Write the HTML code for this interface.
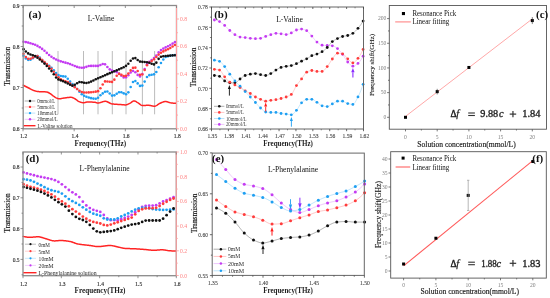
<!DOCTYPE html>
<html><head><meta charset="utf-8"><style>
html,body{margin:0;padding:0;background:#fff;width:550px;height:298px;overflow:hidden}
svg{display:block;filter:blur(0.3px)}
</style></head><body>
<svg width="550" height="298" viewBox="0 0 550 298">
<rect width="550" height="298" fill="#fff"/>
<line x1="58.00" y1="51.00" x2="58.00" y2="114.30" stroke="#b4b4b4" stroke-width="0.9"/>
<line x1="83.50" y1="51.00" x2="83.50" y2="114.30" stroke="#b4b4b4" stroke-width="0.9"/>
<line x1="98.00" y1="51.00" x2="98.00" y2="114.30" stroke="#b4b4b4" stroke-width="0.9"/>
<line x1="112.30" y1="51.00" x2="112.30" y2="114.30" stroke="#b4b4b4" stroke-width="0.9"/>
<line x1="126.00" y1="51.00" x2="126.00" y2="114.30" stroke="#b4b4b4" stroke-width="0.9"/>
<line x1="142.40" y1="51.00" x2="142.40" y2="114.30" stroke="#b4b4b4" stroke-width="0.9"/>
<line x1="154.60" y1="51.00" x2="154.60" y2="114.30" stroke="#b4b4b4" stroke-width="0.9"/>
<polyline points="23.20,85.20 23.70,85.46 24.20,85.71 24.70,85.97 25.20,86.22 25.70,86.48 26.20,86.73 26.70,86.99 27.20,87.24 27.70,87.49 28.20,87.75 28.70,88.00 29.20,88.26 29.70,88.53 30.20,88.80 30.70,89.07 31.20,89.33 31.70,89.58 32.20,89.82 32.70,90.04 33.20,90.24 33.70,90.42 34.20,90.61 34.70,90.79 35.20,90.96 35.70,91.12 36.20,91.25 36.70,91.37 37.20,91.46 37.70,91.52 38.20,91.57 38.70,91.62 39.20,91.66 39.70,91.70 40.20,91.73 40.70,91.75 41.20,91.78 41.70,91.80 42.20,91.81 42.70,91.82 43.20,91.83 43.70,91.84 44.20,91.85 44.70,91.86 45.20,91.87 45.70,91.88 46.20,91.90 46.70,91.96 47.20,92.09 47.70,92.28 48.20,92.51 48.70,92.77 49.20,93.03 49.70,93.30 50.20,93.59 50.70,93.94 51.20,94.33 51.70,94.73 52.20,95.14 52.70,95.54 53.20,95.90 53.70,96.25 54.20,96.61 54.70,96.96 55.20,97.30 55.70,97.61 56.20,97.88 56.70,98.10 57.20,98.29 57.70,98.47 58.20,98.63 58.70,98.74 59.20,98.80 59.70,98.79 60.20,98.74 60.70,98.67 61.20,98.58 61.70,98.48 62.20,98.37 62.70,98.27 63.20,98.18 63.70,98.10 64.20,98.03 64.70,97.96 65.20,97.89 65.70,97.81 66.20,97.74 66.70,97.67 67.20,97.60 67.70,97.53 68.20,97.48 68.70,97.42 69.20,97.38 69.70,97.34 70.20,97.32 70.70,97.30 71.20,97.31 71.70,97.37 72.20,97.51 72.70,97.69 73.20,97.91 73.70,98.17 74.20,98.44 74.70,98.72 75.20,98.99 75.70,99.27 76.20,99.62 76.70,100.01 77.20,100.42 77.70,100.82 78.20,101.18 78.70,101.47 79.20,101.67 79.70,101.86 80.20,102.04 80.70,102.20 81.20,102.36 81.70,102.48 82.20,102.59 82.70,102.66 83.20,102.70 83.70,102.69 84.20,102.64 84.70,102.55 85.20,102.43 85.70,102.31 86.20,102.20 86.70,102.10 87.20,102.03 87.70,102.00 88.20,102.00 88.70,102.01 89.20,102.01 89.70,102.02 90.20,102.04 90.70,102.05 91.20,102.07 91.70,102.09 92.20,102.12 92.70,102.15 93.20,102.17 93.70,102.21 94.20,102.24 94.70,102.28 95.20,102.32 95.70,102.43 96.20,102.59 96.70,102.76 97.20,102.91 97.70,102.99 98.20,102.99 98.70,102.94 99.20,102.86 99.70,102.74 100.20,102.60 100.70,102.44 101.20,102.27 101.70,102.10 102.20,101.93 102.70,101.76 103.20,101.61 103.70,101.49 104.20,101.39 104.70,101.32 105.20,101.30 105.70,101.33 106.20,101.42 106.70,101.57 107.20,101.75 107.70,101.97 108.20,102.21 108.70,102.46 109.20,102.73 109.70,102.99 110.20,103.24 110.70,103.47 111.20,103.67 111.70,103.84 112.20,103.95 112.70,104.02 113.20,104.08 113.70,104.12 114.20,104.17 114.70,104.20 115.20,104.24 115.70,104.27 116.20,104.30 116.70,104.33 117.20,104.35 117.70,104.38 118.20,104.41 118.70,104.44 119.20,104.47 119.70,104.50 120.20,104.54 120.70,104.58 121.20,104.62 121.70,104.67 122.20,104.71 122.70,104.76 123.20,104.80 123.70,104.83 124.20,104.86 124.70,104.89 125.20,104.90 125.70,104.89 126.20,104.83 126.70,104.71 127.20,104.55 127.70,104.35 128.20,104.12 128.70,103.88 129.20,103.63 129.70,103.39 130.20,103.15 130.70,102.83 131.20,102.46 131.70,102.06 132.20,101.68 132.70,101.34 133.20,101.08 133.70,100.93 134.20,100.91 134.70,101.00 135.20,101.18 135.70,101.42 136.20,101.71 136.70,102.03 137.20,102.36 137.70,102.67 138.20,102.96 138.70,103.28 139.20,103.65 139.70,104.05 140.20,104.45 140.70,104.82 141.20,105.14 141.70,105.37 142.20,105.49 142.70,105.50 143.20,105.49 143.70,105.48 144.20,105.46 144.70,105.43 145.20,105.41 145.70,105.38 146.20,105.36 146.70,105.34 147.20,105.32 147.70,105.31 148.20,105.30 148.70,105.31 149.20,105.35 149.70,105.42 150.20,105.50 150.70,105.60 151.20,105.71 151.70,105.82 152.20,105.92 152.70,106.02 153.20,106.10 153.70,106.16 154.20,106.19 154.70,106.19 155.20,106.10 155.70,105.93 156.20,105.69 156.70,105.39 157.20,105.06 157.70,104.71 158.20,104.36 158.70,104.02 159.20,103.70 159.70,103.43 160.20,103.22 160.70,103.00 161.20,102.78 161.70,102.56 162.20,102.35 162.70,102.14 163.20,101.96 163.70,101.79 164.20,101.66 164.70,101.56 165.20,101.51 165.70,101.50 166.20,101.55 166.70,101.65 167.20,101.78 167.70,101.93 168.20,102.10 168.70,102.28 169.20,102.45 169.70,102.61 170.20,102.75 170.70,102.86 171.20,102.92 171.70,102.98 172.20,103.04 172.70,103.09 173.20,103.14 173.70,103.18 174.20,103.22 174.70,103.26 175.20,103.28 175.70,103.29 176.20,103.30" fill="none" stroke="#ff2424" stroke-width="1.5" stroke-linejoin="round" stroke-linecap="round"/>
<g fill="#c43cf2"><circle cx="23.50" cy="41.82" r="1.3"/><circle cx="25.83" cy="42.09" r="1.3"/><circle cx="28.16" cy="42.58" r="1.3"/><circle cx="30.49" cy="43.23" r="1.3"/><circle cx="32.82" cy="43.99" r="1.3"/><circle cx="35.15" cy="44.82" r="1.3"/><circle cx="37.48" cy="45.89" r="1.3"/><circle cx="39.81" cy="47.31" r="1.3"/><circle cx="42.14" cy="48.91" r="1.3"/><circle cx="44.47" cy="50.72" r="1.3"/><circle cx="46.80" cy="52.91" r="1.3"/><circle cx="49.13" cy="55.06" r="1.3"/><circle cx="51.46" cy="56.78" r="1.3"/><circle cx="53.79" cy="58.26" r="1.3"/><circle cx="56.12" cy="59.54" r="1.3"/><circle cx="58.45" cy="60.56" r="1.3"/><circle cx="60.78" cy="61.36" r="1.3"/><circle cx="63.11" cy="62.03" r="1.3"/><circle cx="65.44" cy="62.66" r="1.3"/><circle cx="67.77" cy="63.32" r="1.3"/><circle cx="70.10" cy="64.09" r="1.3"/><circle cx="72.43" cy="65.05" r="1.3"/><circle cx="74.76" cy="66.06" r="1.3"/><circle cx="77.09" cy="66.91" r="1.3"/><circle cx="79.42" cy="67.43" r="1.3"/><circle cx="81.75" cy="67.76" r="1.3"/><circle cx="84.08" cy="67.61" r="1.3"/><circle cx="86.41" cy="66.83" r="1.3"/><circle cx="88.74" cy="66.06" r="1.3"/><circle cx="91.07" cy="65.90" r="1.3"/><circle cx="93.40" cy="65.90" r="1.3"/><circle cx="95.73" cy="65.90" r="1.3"/><circle cx="98.06" cy="65.88" r="1.3"/><circle cx="100.39" cy="65.01" r="1.3"/><circle cx="102.72" cy="63.95" r="1.3"/><circle cx="105.05" cy="64.37" r="1.3"/><circle cx="107.38" cy="66.96" r="1.3"/><circle cx="109.71" cy="69.35" r="1.3"/><circle cx="112.04" cy="70.43" r="1.3"/><circle cx="114.37" cy="71.23" r="1.3"/><circle cx="116.70" cy="72.11" r="1.3"/><circle cx="119.03" cy="73.62" r="1.3"/><circle cx="121.36" cy="75.77" r="1.3"/><circle cx="123.69" cy="77.42" r="1.3"/><circle cx="126.02" cy="77.37" r="1.3"/><circle cx="128.35" cy="75.24" r="1.3"/><circle cx="130.68" cy="72.55" r="1.3"/><circle cx="133.01" cy="71.02" r="1.3"/><circle cx="135.34" cy="72.20" r="1.3"/><circle cx="137.67" cy="74.90" r="1.3"/><circle cx="140.00" cy="76.40" r="1.3"/><circle cx="142.33" cy="74.03" r="1.3"/><circle cx="144.66" cy="68.96" r="1.3"/><circle cx="146.99" cy="64.21" r="1.3"/><circle cx="149.32" cy="61.75" r="1.3"/><circle cx="151.65" cy="59.99" r="1.3"/><circle cx="153.98" cy="58.11" r="1.3"/><circle cx="156.31" cy="55.43" r="1.3"/><circle cx="158.64" cy="52.41" r="1.3"/><circle cx="160.97" cy="50.10" r="1.3"/><circle cx="163.30" cy="48.61" r="1.3"/><circle cx="165.63" cy="47.42" r="1.3"/><circle cx="167.96" cy="46.28" r="1.3"/><circle cx="170.29" cy="44.98" r="1.3"/><circle cx="172.62" cy="43.59" r="1.3"/><circle cx="174.95" cy="42.16" r="1.3"/></g>
<g fill="#1e9ff2"><circle cx="23.50" cy="55.69" r="1.3"/><circle cx="25.83" cy="58.39" r="1.3"/><circle cx="28.16" cy="59.87" r="1.3"/><circle cx="30.49" cy="59.64" r="1.3"/><circle cx="32.82" cy="58.18" r="1.3"/><circle cx="35.15" cy="56.63" r="1.3"/><circle cx="37.48" cy="56.15" r="1.3"/><circle cx="39.81" cy="57.55" r="1.3"/><circle cx="42.14" cy="60.05" r="1.3"/><circle cx="44.47" cy="62.55" r="1.3"/><circle cx="46.80" cy="64.32" r="1.3"/><circle cx="49.13" cy="65.91" r="1.3"/><circle cx="51.46" cy="67.69" r="1.3"/><circle cx="53.79" cy="70.23" r="1.3"/><circle cx="56.12" cy="73.08" r="1.3"/><circle cx="58.45" cy="74.94" r="1.3"/><circle cx="60.78" cy="76.02" r="1.3"/><circle cx="63.11" cy="76.35" r="1.3"/><circle cx="65.44" cy="76.62" r="1.3"/><circle cx="67.77" cy="78.69" r="1.3"/><circle cx="70.10" cy="81.67" r="1.3"/><circle cx="72.43" cy="84.10" r="1.3"/><circle cx="74.76" cy="86.45" r="1.3"/><circle cx="77.09" cy="89.00" r="1.3"/><circle cx="79.42" cy="91.76" r="1.3"/><circle cx="81.75" cy="94.21" r="1.3"/><circle cx="84.08" cy="95.79" r="1.3"/><circle cx="86.41" cy="96.71" r="1.3"/><circle cx="88.74" cy="97.51" r="1.3"/><circle cx="91.07" cy="98.15" r="1.3"/><circle cx="93.40" cy="98.60" r="1.3"/><circle cx="95.73" cy="98.79" r="1.3"/><circle cx="98.06" cy="97.71" r="1.3"/><circle cx="100.39" cy="95.24" r="1.3"/><circle cx="102.72" cy="93.39" r="1.3"/><circle cx="105.05" cy="91.75" r="1.3"/><circle cx="107.38" cy="91.46" r="1.3"/><circle cx="109.71" cy="93.51" r="1.3"/><circle cx="112.04" cy="95.61" r="1.3"/><circle cx="114.37" cy="95.37" r="1.3"/><circle cx="116.70" cy="93.79" r="1.3"/><circle cx="119.03" cy="92.29" r="1.3"/><circle cx="121.36" cy="92.18" r="1.3"/><circle cx="123.69" cy="93.34" r="1.3"/><circle cx="126.02" cy="94.27" r="1.3"/><circle cx="128.35" cy="92.33" r="1.3"/><circle cx="130.68" cy="86.98" r="1.3"/><circle cx="133.01" cy="82.00" r="1.3"/><circle cx="135.34" cy="81.04" r="1.3"/><circle cx="137.67" cy="83.39" r="1.3"/><circle cx="140.00" cy="85.89" r="1.3"/><circle cx="142.33" cy="85.58" r="1.3"/><circle cx="144.66" cy="81.60" r="1.3"/><circle cx="146.99" cy="77.04" r="1.3"/><circle cx="149.32" cy="75.13" r="1.3"/><circle cx="151.65" cy="74.78" r="1.3"/><circle cx="153.98" cy="74.37" r="1.3"/><circle cx="156.31" cy="71.94" r="1.3"/><circle cx="158.64" cy="67.19" r="1.3"/><circle cx="160.97" cy="63.02" r="1.3"/><circle cx="163.30" cy="59.57" r="1.3"/><circle cx="165.63" cy="57.07" r="1.3"/><circle cx="167.96" cy="56.27" r="1.3"/><circle cx="170.29" cy="55.71" r="1.3"/><circle cx="172.62" cy="55.32" r="1.3"/><circle cx="174.95" cy="55.12" r="1.3"/></g>
<g fill="#ff3c3c"><circle cx="23.50" cy="53.79" r="1.3"/><circle cx="25.83" cy="57.00" r="1.3"/><circle cx="28.16" cy="58.84" r="1.3"/><circle cx="30.49" cy="58.73" r="1.3"/><circle cx="32.82" cy="57.60" r="1.3"/><circle cx="35.15" cy="56.41" r="1.3"/><circle cx="37.48" cy="56.12" r="1.3"/><circle cx="39.81" cy="58.34" r="1.3"/><circle cx="42.14" cy="60.17" r="1.3"/><circle cx="44.47" cy="61.99" r="1.3"/><circle cx="46.80" cy="64.02" r="1.3"/><circle cx="49.13" cy="66.33" r="1.3"/><circle cx="51.46" cy="68.83" r="1.3"/><circle cx="53.79" cy="71.73" r="1.3"/><circle cx="56.12" cy="74.83" r="1.3"/><circle cx="58.45" cy="77.31" r="1.3"/><circle cx="60.78" cy="79.27" r="1.3"/><circle cx="63.11" cy="80.55" r="1.3"/><circle cx="65.44" cy="81.26" r="1.3"/><circle cx="67.77" cy="82.01" r="1.3"/><circle cx="70.10" cy="83.46" r="1.3"/><circle cx="72.43" cy="85.48" r="1.3"/><circle cx="74.76" cy="87.23" r="1.3"/><circle cx="77.09" cy="88.99" r="1.3"/><circle cx="79.42" cy="90.70" r="1.3"/><circle cx="81.75" cy="91.98" r="1.3"/><circle cx="84.08" cy="92.50" r="1.3"/><circle cx="86.41" cy="92.47" r="1.3"/><circle cx="88.74" cy="92.38" r="1.3"/><circle cx="91.07" cy="92.22" r="1.3"/><circle cx="93.40" cy="91.98" r="1.3"/><circle cx="95.73" cy="91.65" r="1.3"/><circle cx="98.06" cy="91.16" r="1.3"/><circle cx="100.39" cy="88.20" r="1.3"/><circle cx="102.72" cy="84.49" r="1.3"/><circle cx="105.05" cy="81.42" r="1.3"/><circle cx="107.38" cy="81.52" r="1.3"/><circle cx="109.71" cy="81.77" r="1.3"/><circle cx="112.04" cy="81.90" r="1.3"/><circle cx="114.37" cy="79.66" r="1.3"/><circle cx="116.70" cy="75.72" r="1.3"/><circle cx="119.03" cy="73.91" r="1.3"/><circle cx="121.36" cy="74.78" r="1.3"/><circle cx="123.69" cy="75.96" r="1.3"/><circle cx="126.02" cy="75.86" r="1.3"/><circle cx="128.35" cy="73.58" r="1.3"/><circle cx="130.68" cy="70.41" r="1.3"/><circle cx="133.01" cy="67.88" r="1.3"/><circle cx="135.34" cy="67.66" r="1.3"/><circle cx="137.67" cy="71.06" r="1.3"/><circle cx="140.00" cy="74.71" r="1.3"/><circle cx="142.33" cy="74.48" r="1.3"/><circle cx="144.66" cy="70.04" r="1.3"/><circle cx="146.99" cy="65.22" r="1.3"/><circle cx="149.32" cy="62.75" r="1.3"/><circle cx="151.65" cy="60.97" r="1.3"/><circle cx="153.98" cy="59.19" r="1.3"/><circle cx="156.31" cy="56.96" r="1.3"/><circle cx="158.64" cy="54.60" r="1.3"/><circle cx="160.97" cy="52.72" r="1.3"/><circle cx="163.30" cy="51.42" r="1.3"/><circle cx="165.63" cy="50.34" r="1.3"/><circle cx="167.96" cy="49.26" r="1.3"/><circle cx="170.29" cy="47.98" r="1.3"/><circle cx="172.62" cy="46.52" r="1.3"/><circle cx="174.95" cy="44.94" r="1.3"/></g>
<g fill="#111"><circle cx="23.50" cy="49.16" r="1.3"/><circle cx="25.83" cy="51.57" r="1.3"/><circle cx="28.16" cy="53.41" r="1.3"/><circle cx="30.49" cy="54.53" r="1.3"/><circle cx="32.82" cy="55.24" r="1.3"/><circle cx="35.15" cy="56.12" r="1.3"/><circle cx="37.48" cy="57.65" r="1.3"/><circle cx="39.81" cy="59.55" r="1.3"/><circle cx="42.14" cy="61.50" r="1.3"/><circle cx="44.47" cy="63.62" r="1.3"/><circle cx="46.80" cy="65.91" r="1.3"/><circle cx="49.13" cy="68.44" r="1.3"/><circle cx="51.46" cy="71.12" r="1.3"/><circle cx="53.79" cy="74.23" r="1.3"/><circle cx="56.12" cy="77.43" r="1.3"/><circle cx="58.45" cy="79.38" r="1.3"/><circle cx="60.78" cy="80.37" r="1.3"/><circle cx="63.11" cy="81.23" r="1.3"/><circle cx="65.44" cy="82.36" r="1.3"/><circle cx="67.77" cy="83.57" r="1.3"/><circle cx="70.10" cy="84.70" r="1.3"/><circle cx="72.43" cy="85.67" r="1.3"/><circle cx="74.76" cy="84.82" r="1.3"/><circle cx="77.09" cy="83.30" r="1.3"/><circle cx="79.42" cy="82.06" r="1.3"/><circle cx="81.75" cy="82.25" r="1.3"/><circle cx="84.08" cy="82.82" r="1.3"/><circle cx="86.41" cy="82.96" r="1.3"/><circle cx="88.74" cy="82.48" r="1.3"/><circle cx="91.07" cy="81.58" r="1.3"/><circle cx="93.40" cy="80.46" r="1.3"/><circle cx="95.73" cy="79.29" r="1.3"/><circle cx="98.06" cy="78.25" r="1.3"/><circle cx="100.39" cy="77.26" r="1.3"/><circle cx="102.72" cy="76.23" r="1.3"/><circle cx="105.05" cy="75.18" r="1.3"/><circle cx="107.38" cy="74.14" r="1.3"/><circle cx="109.71" cy="73.14" r="1.3"/><circle cx="112.04" cy="72.20" r="1.3"/><circle cx="114.37" cy="71.30" r="1.3"/><circle cx="116.70" cy="70.36" r="1.3"/><circle cx="119.03" cy="69.35" r="1.3"/><circle cx="121.36" cy="68.32" r="1.3"/><circle cx="123.69" cy="67.18" r="1.3"/><circle cx="126.02" cy="65.84" r="1.3"/><circle cx="128.35" cy="63.74" r="1.3"/><circle cx="130.68" cy="60.80" r="1.3"/><circle cx="133.01" cy="58.44" r="1.3"/><circle cx="135.34" cy="58.11" r="1.3"/><circle cx="137.67" cy="60.04" r="1.3"/><circle cx="140.00" cy="61.60" r="1.3"/><circle cx="142.33" cy="61.87" r="1.3"/><circle cx="144.66" cy="62.02" r="1.3"/><circle cx="146.99" cy="62.22" r="1.3"/><circle cx="149.32" cy="62.79" r="1.3"/><circle cx="151.65" cy="63.79" r="1.3"/><circle cx="153.98" cy="64.39" r="1.3"/><circle cx="156.31" cy="62.63" r="1.3"/><circle cx="158.64" cy="58.83" r="1.3"/><circle cx="160.97" cy="56.74" r="1.3"/><circle cx="163.30" cy="56.32" r="1.3"/><circle cx="165.63" cy="56.05" r="1.3"/><circle cx="167.96" cy="55.84" r="1.3"/><circle cx="170.29" cy="55.61" r="1.3"/><circle cx="172.62" cy="55.38" r="1.3"/><circle cx="174.95" cy="55.18" r="1.3"/></g>
<rect x="23.2" y="5.5" width="153.3" height="123.30000000000001" fill="none" stroke="#8a8a8a" stroke-width="1.3"/>
<line x1="176.50" y1="5.50" x2="176.50" y2="128.80" stroke="#ffa0a0" stroke-width="1.0"/>
<line x1="23.00" y1="128.80" x2="23.00" y2="131.30" stroke="#777" stroke-width="0.8"/>
<line x1="23.00" y1="5.50" x2="23.00" y2="8.00" stroke="#777" stroke-width="0.8"/>
<line x1="48.58" y1="128.80" x2="48.58" y2="130.30" stroke="#777" stroke-width="0.8"/>
<line x1="48.58" y1="5.50" x2="48.58" y2="7.00" stroke="#777" stroke-width="0.8"/>
<line x1="74.17" y1="128.80" x2="74.17" y2="131.30" stroke="#777" stroke-width="0.8"/>
<line x1="74.17" y1="5.50" x2="74.17" y2="8.00" stroke="#777" stroke-width="0.8"/>
<line x1="99.75" y1="128.80" x2="99.75" y2="130.30" stroke="#777" stroke-width="0.8"/>
<line x1="99.75" y1="5.50" x2="99.75" y2="7.00" stroke="#777" stroke-width="0.8"/>
<line x1="125.33" y1="128.80" x2="125.33" y2="131.30" stroke="#777" stroke-width="0.8"/>
<line x1="125.33" y1="5.50" x2="125.33" y2="8.00" stroke="#777" stroke-width="0.8"/>
<line x1="150.92" y1="128.80" x2="150.92" y2="130.30" stroke="#777" stroke-width="0.8"/>
<line x1="150.92" y1="5.50" x2="150.92" y2="7.00" stroke="#777" stroke-width="0.8"/>
<line x1="176.50" y1="128.80" x2="176.50" y2="131.30" stroke="#777" stroke-width="0.8"/>
<line x1="176.50" y1="5.50" x2="176.50" y2="8.00" stroke="#777" stroke-width="0.8"/>
<line x1="20.70" y1="128.50" x2="23.20" y2="128.50" stroke="#777" stroke-width="0.8"/>
<line x1="21.70" y1="108.00" x2="23.20" y2="108.00" stroke="#777" stroke-width="0.8"/>
<line x1="20.70" y1="87.50" x2="23.20" y2="87.50" stroke="#777" stroke-width="0.8"/>
<line x1="21.70" y1="67.00" x2="23.20" y2="67.00" stroke="#777" stroke-width="0.8"/>
<line x1="20.70" y1="46.50" x2="23.20" y2="46.50" stroke="#777" stroke-width="0.8"/>
<line x1="21.70" y1="26.00" x2="23.20" y2="26.00" stroke="#777" stroke-width="0.8"/>
<line x1="20.70" y1="5.50" x2="23.20" y2="5.50" stroke="#777" stroke-width="0.8"/>
<line x1="176.50" y1="128.80" x2="179.00" y2="128.80" stroke="#ffa0a0" stroke-width="0.8"/>
<line x1="176.50" y1="115.08" x2="178.00" y2="115.08" stroke="#ffa0a0" stroke-width="0.8"/>
<line x1="176.50" y1="101.35" x2="179.00" y2="101.35" stroke="#ffa0a0" stroke-width="0.8"/>
<line x1="176.50" y1="87.62" x2="178.00" y2="87.62" stroke="#ffa0a0" stroke-width="0.8"/>
<line x1="176.50" y1="73.90" x2="179.00" y2="73.90" stroke="#ffa0a0" stroke-width="0.8"/>
<line x1="176.50" y1="60.18" x2="178.00" y2="60.18" stroke="#ffa0a0" stroke-width="0.8"/>
<line x1="176.50" y1="46.45" x2="179.00" y2="46.45" stroke="#ffa0a0" stroke-width="0.8"/>
<line x1="176.50" y1="32.73" x2="178.00" y2="32.73" stroke="#ffa0a0" stroke-width="0.8"/>
<line x1="176.50" y1="19.00" x2="179.00" y2="19.00" stroke="#ffa0a0" stroke-width="0.8"/>
<text x="23.80" y="135.40" font-family="'Liberation Serif', serif" font-size="6.4" fill="#2a2a2a" text-anchor="middle" font-weight="normal" font-style="normal" dominant-baseline="central" textLength="6.9" lengthAdjust="spacingAndGlyphs" stroke="#2a2a2a" stroke-width="0.15">1.2</text>
<text x="74.97" y="135.40" font-family="'Liberation Serif', serif" font-size="6.4" fill="#2a2a2a" text-anchor="middle" font-weight="normal" font-style="normal" dominant-baseline="central" textLength="6.9" lengthAdjust="spacingAndGlyphs" stroke="#2a2a2a" stroke-width="0.15">1.4</text>
<text x="126.13" y="135.40" font-family="'Liberation Serif', serif" font-size="6.4" fill="#2a2a2a" text-anchor="middle" font-weight="normal" font-style="normal" dominant-baseline="central" textLength="6.9" lengthAdjust="spacingAndGlyphs" stroke="#2a2a2a" stroke-width="0.15">1.6</text>
<text x="177.30" y="135.40" font-family="'Liberation Serif', serif" font-size="6.4" fill="#2a2a2a" text-anchor="middle" font-weight="normal" font-style="normal" dominant-baseline="central" textLength="6.9" lengthAdjust="spacingAndGlyphs" stroke="#2a2a2a" stroke-width="0.15">1.8</text>
<text x="19.60" y="128.10" font-family="'Liberation Serif', serif" font-size="6.4" fill="#2a2a2a" text-anchor="end" font-weight="normal" font-style="normal" dominant-baseline="central" textLength="6.9" lengthAdjust="spacingAndGlyphs" stroke="#2a2a2a" stroke-width="0.15">0.6</text>
<text x="19.60" y="87.10" font-family="'Liberation Serif', serif" font-size="6.4" fill="#2a2a2a" text-anchor="end" font-weight="normal" font-style="normal" dominant-baseline="central" textLength="6.9" lengthAdjust="spacingAndGlyphs" stroke="#2a2a2a" stroke-width="0.15">0.7</text>
<text x="19.60" y="46.10" font-family="'Liberation Serif', serif" font-size="6.4" fill="#2a2a2a" text-anchor="end" font-weight="normal" font-style="normal" dominant-baseline="central" textLength="6.9" lengthAdjust="spacingAndGlyphs" stroke="#2a2a2a" stroke-width="0.15">0.8</text>
<text x="19.60" y="5.10" font-family="'Liberation Serif', serif" font-size="6.4" fill="#2a2a2a" text-anchor="end" font-weight="normal" font-style="normal" dominant-baseline="central" textLength="6.9" lengthAdjust="spacingAndGlyphs" stroke="#2a2a2a" stroke-width="0.15">0.9</text>
<text x="180.00" y="128.80" font-family="'Liberation Serif', serif" font-size="5.6" fill="#ff8080" text-anchor="start" font-weight="normal" font-style="normal" dominant-baseline="central">0.0</text>
<text x="180.00" y="101.35" font-family="'Liberation Serif', serif" font-size="5.6" fill="#ff8080" text-anchor="start" font-weight="normal" font-style="normal" dominant-baseline="central">0.2</text>
<text x="180.00" y="73.90" font-family="'Liberation Serif', serif" font-size="5.6" fill="#ff8080" text-anchor="start" font-weight="normal" font-style="normal" dominant-baseline="central">0.4</text>
<text x="180.00" y="46.45" font-family="'Liberation Serif', serif" font-size="5.6" fill="#ff8080" text-anchor="start" font-weight="normal" font-style="normal" dominant-baseline="central">0.6</text>
<text x="180.00" y="19.00" font-family="'Liberation Serif', serif" font-size="5.6" fill="#ff8080" text-anchor="start" font-weight="normal" font-style="normal" dominant-baseline="central">0.8</text>
<text x="28.60" y="14.40" font-family="'Liberation Serif', serif" font-size="11" fill="#111" text-anchor="start" font-weight="bold" font-style="normal" dominant-baseline="central">(a)</text>
<text x="101.00" y="18.50" font-family="'Liberation Serif', serif" font-size="7.6" fill="#111" text-anchor="middle" font-weight="normal" font-style="normal" dominant-baseline="central">L-Valine</text>
<text x="100.30" y="143.70" font-family="'Liberation Serif', serif" font-size="7.5" fill="#222" text-anchor="middle" font-weight="bold" font-style="normal" dominant-baseline="central" textLength="51.5" lengthAdjust="spacingAndGlyphs">Frequency(THz)</text>
<text x="8.00" y="66.30" font-family="'Liberation Serif', serif" font-size="7.3" fill="#1a1a1a" text-anchor="middle" font-weight="normal" font-style="normal" dominant-baseline="central" transform="rotate(-90 8.0 66.3)" stroke="#1a1a1a" stroke-width="0.15">Transmission</text>
<line x1="24.70" y1="101.00" x2="35.30" y2="101.00" stroke="#777" stroke-width="0.6"/>
<circle cx="30" cy="101.0" r="1.2" fill="#111"/>
<text x="37.20" y="101.00" font-family="'Liberation Serif', serif" font-size="5.6" fill="#333" text-anchor="start" font-weight="normal" font-style="normal" dominant-baseline="central" textLength="18.0" lengthAdjust="spacingAndGlyphs">0mmol/L</text>
<line x1="24.70" y1="106.90" x2="35.30" y2="106.90" stroke="#ff9a9a" stroke-width="0.6"/>
<circle cx="30" cy="106.9" r="1.2" fill="#ff3c3c"/>
<text x="37.20" y="106.90" font-family="'Liberation Serif', serif" font-size="5.6" fill="#333" text-anchor="start" font-weight="normal" font-style="normal" dominant-baseline="central" textLength="18.0" lengthAdjust="spacingAndGlyphs">5mmol/L</text>
<line x1="24.70" y1="113.10" x2="35.30" y2="113.10" stroke="#8fd0f8" stroke-width="0.6"/>
<circle cx="30" cy="113.1" r="1.2" fill="#1e9ff2"/>
<text x="37.20" y="113.10" font-family="'Liberation Serif', serif" font-size="5.6" fill="#333" text-anchor="start" font-weight="normal" font-style="normal" dominant-baseline="central" textLength="20.6" lengthAdjust="spacingAndGlyphs">10mmol/L</text>
<line x1="24.70" y1="119.30" x2="35.30" y2="119.30" stroke="#e0a0f8" stroke-width="0.6"/>
<circle cx="30" cy="119.3" r="1.2" fill="#c43cf2"/>
<text x="37.20" y="119.30" font-family="'Liberation Serif', serif" font-size="5.6" fill="#333" text-anchor="start" font-weight="normal" font-style="normal" dominant-baseline="central" textLength="20.6" lengthAdjust="spacingAndGlyphs">20mmol/L</text>
<line x1="23.80" y1="125.70" x2="35.50" y2="125.70" stroke="#ff2424" stroke-width="1.4"/>
<text x="37.60" y="125.70" font-family="'Liberation Serif', serif" font-size="5.6" fill="#333" text-anchor="start" font-weight="normal" font-style="normal" dominant-baseline="central" textLength="35.0" lengthAdjust="spacingAndGlyphs">L-Valine solution</text>
<polyline points="214.40,20.00 214.90,20.06 215.40,20.15 215.90,20.27 216.40,20.40 216.90,20.56 217.40,20.73 217.90,20.92 218.40,21.12 218.90,21.33 219.40,21.54 219.90,21.78 220.40,22.05 220.90,22.37 221.40,22.71 221.90,23.09 222.40,23.48 222.90,23.90 223.40,24.32 223.90,24.75 224.40,25.18 224.90,25.61 225.40,26.07 225.90,26.56 226.40,27.06 226.90,27.58 227.40,28.11 227.90,28.64 228.40,29.15 228.90,29.66 229.40,30.15 229.90,30.60 230.40,31.06 230.90,31.51 231.40,31.96 231.90,32.41 232.40,32.84 232.90,33.26 233.40,33.65 233.90,34.03 234.40,34.38 234.90,34.69 235.40,34.99 235.90,35.29 236.40,35.59 236.90,35.87 237.40,36.14 237.90,36.39 238.40,36.61 238.90,36.80 239.40,36.96 239.90,37.08 240.40,37.15 240.90,37.22 241.40,37.28 241.90,37.32 242.40,37.36 242.90,37.40 243.40,37.44 243.90,37.48 244.40,37.52 244.90,37.57 245.40,37.63 245.90,37.69 246.40,37.76 246.90,37.83 247.40,37.91 247.90,37.98 248.40,38.06 248.90,38.13 249.40,38.20 249.90,38.26 250.40,38.31 250.90,38.36 251.40,38.42 251.90,38.47 252.40,38.52 252.90,38.57 253.40,38.61 253.90,38.65 254.40,38.67 254.90,38.69 255.40,38.70 255.90,38.70 256.40,38.68 256.90,38.66 257.40,38.63 257.90,38.59 258.40,38.55 258.90,38.50 259.40,38.44 259.90,38.38 260.40,38.32 260.90,38.24 261.40,38.13 261.90,37.97 262.40,37.79 262.90,37.58 263.40,37.37 263.90,37.14 264.40,36.92 264.90,36.70 265.40,36.50 265.90,36.32 266.40,36.15 266.90,35.98 267.40,35.80 267.90,35.63 268.40,35.47 268.90,35.30 269.40,35.14 269.90,34.98 270.40,34.82 270.90,34.67 271.40,34.51 271.90,34.33 272.40,34.15 272.90,33.97 273.40,33.80 273.90,33.64 274.40,33.51 274.90,33.40 275.40,33.33 275.90,33.30 276.40,33.31 276.90,33.33 277.40,33.36 277.90,33.41 278.40,33.46 278.90,33.52 279.40,33.59 279.90,33.65 280.40,33.72 280.90,33.78 281.40,33.85 281.90,33.93 282.40,34.02 282.90,34.13 283.40,34.23 283.90,34.33 284.40,34.42 284.90,34.50 285.40,34.56 285.90,34.59 286.40,34.60 286.90,34.55 287.40,34.45 287.90,34.32 288.40,34.15 288.90,33.96 289.40,33.75 289.90,33.53 290.40,33.30 290.90,33.08 291.40,32.87 291.90,32.62 292.40,32.34 292.90,32.02 293.40,31.68 293.90,31.34 294.40,31.01 294.90,30.70 295.40,30.42 295.90,30.19 296.40,30.01 296.90,29.88 297.40,29.75 297.90,29.62 298.40,29.51 298.90,29.40 299.40,29.31 299.90,29.23 300.40,29.16 300.90,29.12 301.40,29.10 301.90,29.11 302.40,29.16 302.90,29.24 303.40,29.36 303.90,29.51 304.40,29.68 304.90,29.88 305.40,30.09 305.90,30.32 306.40,30.55 306.90,30.80 307.40,31.13 307.90,31.55 308.40,32.03 308.90,32.57 309.40,33.16 309.90,33.76 310.40,34.39 310.90,35.00 311.40,35.61 311.90,36.18 312.40,36.76 312.90,37.37 313.40,38.01 313.90,38.66 314.40,39.30 314.90,39.93 315.40,40.54 315.90,41.10 316.40,41.61 316.90,42.05 317.40,42.46 317.90,42.86 318.40,43.27 318.90,43.66 319.40,44.03 319.90,44.36 320.40,44.65 320.90,44.90 321.40,45.07 321.90,45.18 322.40,45.22 322.90,45.25 323.40,45.27 323.90,45.29 324.40,45.31 324.90,45.32 325.40,45.33 325.90,45.35 326.40,45.36 326.90,45.38 327.40,45.41 327.90,45.44 328.40,45.46 328.90,45.49 329.40,45.52 329.90,45.55 330.40,45.59 330.90,45.64 331.40,45.69 331.90,45.74 332.40,45.81 332.90,45.91 333.40,46.07 333.90,46.28 334.40,46.53 334.90,46.81 335.40,47.13 335.90,47.46 336.40,47.82 336.90,48.18 337.40,48.55 337.90,48.93 338.40,49.37 338.90,49.86 339.40,50.38 339.90,50.94 340.40,51.53 340.90,52.14 341.40,52.77 341.90,53.40 342.40,54.04 342.90,54.70 343.40,55.42 343.90,56.20 344.40,57.01 344.90,57.85 345.40,58.68 345.90,59.50 346.40,60.27 346.90,60.99 347.40,61.63 347.90,62.18 348.40,62.74 348.90,63.30 349.40,63.85 349.90,64.39 350.40,64.88 350.90,65.32 351.40,65.69 351.90,65.97 352.40,66.15 352.90,66.20 353.40,66.15 353.90,66.03 354.40,65.85 354.90,65.61 355.40,65.32 355.90,64.99 356.40,64.63 356.90,64.25 357.40,63.86 357.90,63.47 358.40,63.05 358.90,62.55 359.40,61.99 359.90,61.37 360.40,60.68 360.90,59.95 361.40,59.16 361.90,58.34 362.40,57.48 362.90,56.59" fill="none" stroke="#e0a0f8" stroke-width="0.5" stroke-linejoin="round" stroke-linecap="round"/>
<polyline points="214.40,75.50 214.90,75.51 215.40,75.54 215.90,75.58 216.40,75.64 216.90,75.72 217.40,75.81 217.90,75.91 218.40,76.02 218.90,76.14 219.40,76.27 219.90,76.44 220.40,76.75 220.90,77.17 221.40,77.66 221.90,78.22 222.40,78.79 222.90,79.36 223.40,79.89 223.90,80.37 224.40,80.75 224.90,81.03 225.40,81.29 225.90,81.56 226.40,81.81 226.90,82.05 227.40,82.26 227.90,82.45 228.40,82.60 228.90,82.72 229.40,82.78 229.90,82.80 230.40,82.80 230.90,82.80 231.40,82.80 231.90,82.80 232.40,82.80 232.90,82.80 233.40,82.80 233.90,82.80 234.40,82.80 234.90,82.80 235.40,82.73 235.90,82.54 236.40,82.24 236.90,81.86 237.40,81.43 237.90,80.95 238.40,80.46 238.90,79.97 239.40,79.51 239.90,79.10 240.40,78.74 240.90,78.36 241.40,77.97 241.90,77.57 242.40,77.19 242.90,76.81 243.40,76.46 243.90,76.13 244.40,75.85 244.90,75.61 245.40,75.42 245.90,75.24 246.40,75.08 246.90,74.94 247.40,74.80 247.90,74.67 248.40,74.56 248.90,74.45 249.40,74.36 249.90,74.27 250.40,74.18 250.90,74.10 251.40,74.02 251.90,73.94 252.40,73.86 252.90,73.79 253.40,73.73 253.90,73.68 254.40,73.64 254.90,73.61 255.40,73.60 255.90,73.62 256.40,73.68 256.90,73.77 257.40,73.88 257.90,74.01 258.40,74.15 258.90,74.29 259.40,74.43 259.90,74.56 260.40,74.67 260.90,74.77 261.40,74.87 261.90,74.97 262.40,75.07 262.90,75.17 263.40,75.27 263.90,75.35 264.40,75.42 264.90,75.47 265.40,75.50 265.90,75.49 266.40,75.44 266.90,75.33 267.40,75.19 267.90,75.00 268.40,74.79 268.90,74.55 269.40,74.31 269.90,74.05 270.40,73.80 270.90,73.56 271.40,73.28 271.90,72.98 272.40,72.64 272.90,72.28 273.40,71.90 273.90,71.52 274.40,71.15 274.90,70.78 275.40,70.44 275.90,70.12 276.40,69.82 276.90,69.52 277.40,69.21 277.90,68.91 278.40,68.62 278.90,68.34 279.40,68.08 279.90,67.84 280.40,67.63 280.90,67.45 281.40,67.30 281.90,67.16 282.40,67.04 282.90,66.92 283.40,66.81 283.90,66.71 284.40,66.61 284.90,66.52 285.40,66.43 285.90,66.35 286.40,66.27 286.90,66.19 287.40,66.13 287.90,66.07 288.40,66.01 288.90,65.95 289.40,65.90 289.90,65.83 290.40,65.76 290.90,65.68 291.40,65.58 291.90,65.47 292.40,65.32 292.90,65.16 293.40,64.98 293.90,64.79 294.40,64.58 294.90,64.37 295.40,64.15 295.90,63.93 296.40,63.72 296.90,63.50 297.40,63.28 297.90,63.04 298.40,62.79 298.90,62.54 299.40,62.29 299.90,62.03 300.40,61.78 300.90,61.53 301.40,61.28 301.90,61.05 302.40,60.82 302.90,60.59 303.40,60.36 303.90,60.14 304.40,59.91 304.90,59.69 305.40,59.45 305.90,59.21 306.40,58.96 306.90,58.69 307.40,58.40 307.90,58.09 308.40,57.76 308.90,57.42 309.40,57.09 309.90,56.76 310.40,56.44 310.90,56.15 311.40,55.89 311.90,55.67 312.40,55.48 312.90,55.31 313.40,55.16 313.90,55.01 314.40,54.88 314.90,54.74 315.40,54.60 315.90,54.46 316.40,54.30 316.90,54.12 317.40,53.93 317.90,53.74 318.40,53.53 318.90,53.32 319.40,53.10 319.90,52.87 320.40,52.62 320.90,52.37 321.40,52.10 321.90,51.81 322.40,51.51 322.90,51.18 323.40,50.82 323.90,50.44 324.40,50.04 324.90,49.62 325.40,49.18 325.90,48.73 326.40,48.27 326.90,47.80 327.40,47.32 327.90,46.78 328.40,46.19 328.90,45.57 329.40,44.93 329.90,44.28 330.40,43.64 330.90,43.04 331.40,42.48 331.90,41.98 332.40,41.56 332.90,41.18 333.40,40.84 333.90,40.51 334.40,40.21 334.90,39.92 335.40,39.64 335.90,39.38 336.40,39.12 336.90,38.88 337.40,38.63 337.90,38.39 338.40,38.15 338.90,37.92 339.40,37.69 339.90,37.47 340.40,37.26 340.90,37.06 341.40,36.87 341.90,36.70 342.40,36.55 342.90,36.42 343.40,36.31 343.90,36.21 344.40,36.13 344.90,36.04 345.40,35.96 345.90,35.88 346.40,35.79 346.90,35.70 347.40,35.58 347.90,35.45 348.40,35.31 348.90,35.14 349.40,34.97 349.90,34.77 350.40,34.56 350.90,34.34 351.40,34.10 351.90,33.84 352.40,33.56 352.90,33.27 353.40,32.94 353.90,32.56 354.40,32.14 354.90,31.67 355.40,31.18 355.90,30.65 356.40,30.11 356.90,29.54 357.40,28.97 357.90,28.40 358.40,27.81 358.90,27.20 359.40,26.56 359.90,25.90 360.40,25.21 360.90,24.50 361.40,23.76 361.90,23.01 362.40,22.23 362.90,21.44" fill="none" stroke="#777" stroke-width="0.5" stroke-linejoin="round" stroke-linecap="round"/>
<polyline points="214.40,69.30 214.90,69.31 215.40,69.34 215.90,69.38 216.40,69.44 216.90,69.51 217.40,69.60 217.90,69.70 218.40,69.81 218.90,69.93 219.40,70.06 219.90,70.26 220.40,70.64 220.90,71.17 221.40,71.83 221.90,72.58 222.40,73.38 222.90,74.21 223.40,75.02 223.90,75.79 224.40,76.49 224.90,77.09 225.40,77.68 225.90,78.27 226.40,78.86 226.90,79.44 227.40,80.00 227.90,80.53 228.40,81.03 228.90,81.50 229.40,81.91 229.90,82.28 230.40,82.61 230.90,82.91 231.40,83.18 231.90,83.44 232.40,83.69 232.90,83.92 233.40,84.16 233.90,84.40 234.40,84.64 234.90,84.89 235.40,85.16 235.90,85.41 236.40,85.67 236.90,85.93 237.40,86.18 237.90,86.44 238.40,86.70 238.90,86.97 239.40,87.24 239.90,87.52 240.40,87.81 240.90,88.11 241.40,88.42 241.90,88.74 242.40,89.07 242.90,89.39 243.40,89.72 243.90,90.03 244.40,90.34 244.90,90.64 245.40,90.93 245.90,91.20 246.40,91.47 246.90,91.72 247.40,91.97 247.90,92.22 248.40,92.47 248.90,92.73 249.40,92.99 249.90,93.27 250.40,93.56 250.90,93.88 251.40,94.22 251.90,94.58 252.40,94.94 252.90,95.31 253.40,95.68 253.90,96.04 254.40,96.38 254.90,96.70 255.40,96.99 255.90,97.25 256.40,97.50 256.90,97.74 257.40,97.98 257.90,98.20 258.40,98.41 258.90,98.62 259.40,98.83 259.90,99.04 260.40,99.24 260.90,99.45 261.40,99.68 261.90,99.92 262.40,100.17 262.90,100.41 263.40,100.64 263.90,100.84 264.40,101.00 264.90,101.12 265.40,101.19 265.90,101.20 266.40,101.16 266.90,101.10 267.40,101.02 267.90,100.92 268.40,100.80 268.90,100.69 269.40,100.57 269.90,100.46 270.40,100.36 270.90,100.29 271.40,100.22 271.90,100.16 272.40,100.11 272.90,100.06 273.40,100.01 273.90,99.96 274.40,99.90 274.90,99.84 275.40,99.78 275.90,99.71 276.40,99.62 276.90,99.53 277.40,99.42 277.90,99.31 278.40,99.19 278.90,99.07 279.40,98.94 279.90,98.81 280.40,98.67 280.90,98.54 281.40,98.41 281.90,98.28 282.40,98.15 282.90,98.02 283.40,97.88 283.90,97.74 284.40,97.60 284.90,97.44 285.40,97.28 285.90,97.11 286.40,96.92 286.90,96.74 287.40,96.54 287.90,96.34 288.40,96.13 288.90,95.90 289.40,95.64 289.90,95.36 290.40,95.06 290.90,94.71 291.40,94.33 291.90,93.82 292.40,93.13 292.90,92.32 293.40,91.40 293.90,90.42 294.40,89.40 294.90,88.39 295.40,87.40 295.90,86.49 296.40,85.67 296.90,84.94 297.40,84.24 297.90,83.57 298.40,82.92 298.90,82.28 299.40,81.65 299.90,81.02 300.40,80.40 300.90,79.77 301.40,79.13 301.90,78.46 302.40,77.74 302.90,76.97 303.40,76.19 303.90,75.42 304.40,74.67 304.90,73.97 305.40,73.34 305.90,72.81 306.40,72.39 306.90,72.10 307.40,71.84 307.90,71.59 308.40,71.36 308.90,71.15 309.40,70.96 309.90,70.80 310.40,70.67 310.90,70.57 311.40,70.52 311.90,70.50 312.40,70.53 312.90,70.60 313.40,70.70 313.90,70.82 314.40,70.95 314.90,71.08 315.40,71.20 315.90,71.30 316.40,71.37 316.90,71.40 317.40,71.40 317.90,71.40 318.40,71.40 318.90,71.40 319.40,71.40 319.90,71.40 320.40,71.40 320.90,71.40 321.40,71.40 321.90,71.40 322.40,71.37 322.90,71.20 323.40,70.90 323.90,70.50 324.40,70.01 324.90,69.45 325.40,68.85 325.90,68.22 326.40,67.59 326.90,66.97 327.40,66.38 327.90,65.74 328.40,65.04 328.90,64.28 329.40,63.50 329.90,62.69 330.40,61.89 330.90,61.09 331.40,60.32 331.90,59.60 332.40,58.93 332.90,58.24 333.40,57.51 333.90,56.75 334.40,56.00 334.90,55.29 335.40,54.64 335.90,54.07 336.40,53.63 336.90,53.33 337.40,53.20 337.90,53.21 338.40,53.22 338.90,53.25 339.40,53.30 339.90,53.35 340.40,53.41 340.90,53.49 341.40,53.57 341.90,53.66 342.40,53.76 342.90,53.89 343.40,54.15 343.90,54.54 344.40,55.01 344.90,55.56 345.40,56.15 345.90,56.77 346.40,57.38 346.90,57.96 347.40,58.49 347.90,58.95 348.40,59.44 348.90,59.96 349.40,60.49 349.90,61.02 350.40,61.52 350.90,61.97 351.40,62.36 351.90,62.65 352.40,62.84 352.90,62.90 353.40,62.82 353.90,62.61 354.40,62.28 354.90,61.87 355.40,61.38 355.90,60.83 356.40,60.24 356.90,59.63 357.40,59.01 357.90,58.40 358.40,57.79 358.90,57.11 359.40,56.37 359.90,55.58 360.40,54.73 360.90,53.84 361.40,52.90 361.90,51.92 362.40,50.90 362.90,49.85" fill="none" stroke="#ff9a9a" stroke-width="0.5" stroke-linejoin="round" stroke-linecap="round"/>
<polyline points="214.40,60.20 214.90,60.21 215.40,60.25 215.90,60.32 216.40,60.40 216.90,60.51 217.40,60.63 217.90,60.77 218.40,60.92 218.90,61.08 219.40,61.25 219.90,61.46 220.40,61.77 220.90,62.17 221.40,62.64 221.90,63.18 222.40,63.76 222.90,64.38 223.40,65.01 223.90,65.65 224.40,66.28 224.90,66.90 225.40,67.57 225.90,68.28 226.40,69.02 226.90,69.79 227.40,70.57 227.90,71.36 228.40,72.15 228.90,72.91 229.40,73.65 229.90,74.36 230.40,75.05 230.90,75.74 231.40,76.43 231.90,77.10 232.40,77.77 232.90,78.42 233.40,79.06 233.90,79.69 234.40,80.30 234.90,80.89 235.40,81.45 235.90,82.00 236.40,82.53 236.90,83.04 237.40,83.54 237.90,84.04 238.40,84.54 238.90,85.04 239.40,85.54 239.90,86.05 240.40,86.58 240.90,87.10 241.40,87.62 241.90,88.15 242.40,88.68 242.90,89.21 243.40,89.73 243.90,90.26 244.40,90.79 244.90,91.32 245.40,91.84 245.90,92.37 246.40,92.90 246.90,93.42 247.40,93.95 247.90,94.47 248.40,95.00 248.90,95.52 249.40,96.05 249.90,96.58 250.40,97.11 250.90,97.64 251.40,98.18 251.90,98.71 252.40,99.25 252.90,99.79 253.40,100.32 253.90,100.86 254.40,101.40 254.90,101.94 255.40,102.47 255.90,103.02 256.40,103.57 256.90,104.13 257.40,104.70 257.90,105.26 258.40,105.81 258.90,106.36 259.40,106.88 259.90,107.38 260.40,107.86 260.90,108.32 261.40,108.81 261.90,109.31 262.40,109.81 262.90,110.29 263.40,110.74 263.90,111.15 264.40,111.49 264.90,111.76 265.40,111.94 265.90,112.03 266.40,112.10 266.90,112.16 267.40,112.21 267.90,112.26 268.40,112.30 268.90,112.34 269.40,112.37 269.90,112.39 270.40,112.40 270.90,112.40 271.40,112.40 271.90,112.40 272.40,112.40 272.90,112.40 273.40,112.40 273.90,112.40 274.40,112.40 274.90,112.40 275.40,112.40 275.90,112.40 276.40,112.42 276.90,112.48 277.40,112.57 277.90,112.69 278.40,112.82 278.90,112.97 279.40,113.11 279.90,113.25 280.40,113.37 280.90,113.47 281.40,113.55 281.90,113.62 282.40,113.68 282.90,113.74 283.40,113.79 283.90,113.85 284.40,113.90 284.90,113.95 285.40,114.01 285.90,114.06 286.40,114.13 286.90,114.20 287.40,114.29 287.90,114.38 288.40,114.47 288.90,114.56 289.40,114.64 289.90,114.70 290.40,114.76 290.90,114.79 291.40,114.80 291.90,114.70 292.40,114.48 292.90,114.15 293.40,113.73 293.90,113.24 294.40,112.69 294.90,112.11 295.40,111.51 295.90,110.92 296.40,110.35 296.90,109.76 297.40,109.06 297.90,108.29 298.40,107.47 298.90,106.63 299.40,105.79 299.90,104.98 300.40,104.22 300.90,103.55 301.40,102.97 301.90,102.50 302.40,102.02 302.90,101.54 303.40,101.08 303.90,100.65 304.40,100.25 304.90,99.91 305.40,99.63 305.90,99.43 306.40,99.32 306.90,99.30 307.40,99.30 307.90,99.30 308.40,99.30 308.90,99.30 309.40,99.30 309.90,99.30 310.40,99.30 310.90,99.30 311.40,99.30 311.90,99.30 312.40,99.37 312.90,99.53 313.40,99.76 313.90,100.06 314.40,100.40 314.90,100.77 315.40,101.16 315.90,101.55 316.40,101.92 316.90,102.26 317.40,102.60 317.90,102.97 318.40,103.37 318.90,103.78 319.40,104.19 319.90,104.59 320.40,104.95 320.90,105.28 321.40,105.55 321.90,105.75 322.40,105.88 322.90,106.00 323.40,106.11 323.90,106.22 324.40,106.32 324.90,106.40 325.40,106.48 325.90,106.53 326.40,106.57 326.90,106.60 327.40,106.59 327.90,106.51 328.40,106.35 328.90,106.11 329.40,105.83 329.90,105.51 330.40,105.16 330.90,104.81 331.40,104.47 331.90,104.15 332.40,103.87 332.90,103.58 333.40,103.25 333.90,102.91 334.40,102.56 334.90,102.22 335.40,101.90 335.90,101.63 336.40,101.41 336.90,101.26 337.40,101.20 337.90,101.20 338.40,101.20 338.90,101.20 339.40,101.20 339.90,101.20 340.40,101.20 340.90,101.20 341.40,101.20 341.90,101.20 342.40,101.20 342.90,101.22 343.40,101.33 343.90,101.53 344.40,101.78 344.90,102.08 345.40,102.40 345.90,102.73 346.40,103.03 346.90,103.30 347.40,103.50 347.90,103.64 348.40,103.76 348.90,103.87 349.40,103.98 349.90,104.08 350.40,104.17 350.90,104.25 351.40,104.31 351.90,104.36 352.40,104.39 352.90,104.40 353.40,104.26 353.90,103.90 354.40,103.37 354.90,102.67 355.40,101.86 355.90,100.96 356.40,99.99 356.90,99.00 357.40,98.01 357.90,97.05 358.40,96.11 358.90,95.10 359.40,94.02 359.90,92.88 360.40,91.68 360.90,90.43 361.40,89.12 361.90,87.77 362.40,86.37 362.90,84.92" fill="none" stroke="#8fd0f8" stroke-width="0.5" stroke-linejoin="round" stroke-linecap="round"/>
<g fill="#c43cf2"><circle cx="214.40" cy="20.00" r="1.4"/><circle cx="219.53" cy="21.60" r="1.4"/><circle cx="224.66" cy="25.40" r="1.4"/><circle cx="229.78" cy="30.50" r="1.4"/><circle cx="234.91" cy="34.70" r="1.4"/><circle cx="240.04" cy="37.10" r="1.4"/><circle cx="245.17" cy="37.60" r="1.4"/><circle cx="250.30" cy="38.30" r="1.4"/><circle cx="255.42" cy="38.70" r="1.4"/><circle cx="260.55" cy="38.30" r="1.4"/><circle cx="265.68" cy="36.40" r="1.4"/><circle cx="270.81" cy="34.70" r="1.4"/><circle cx="275.94" cy="33.30" r="1.4"/><circle cx="281.06" cy="33.80" r="1.4"/><circle cx="286.19" cy="34.60" r="1.4"/><circle cx="291.32" cy="32.90" r="1.4"/><circle cx="296.45" cy="30.00" r="1.4"/><circle cx="301.58" cy="29.10" r="1.4"/><circle cx="306.70" cy="30.70" r="1.4"/><circle cx="311.83" cy="36.10" r="1.4"/><circle cx="316.96" cy="42.10" r="1.4"/><circle cx="322.09" cy="45.20" r="1.4"/><circle cx="327.22" cy="45.40" r="1.4"/><circle cx="332.34" cy="45.80" r="1.4"/><circle cx="337.47" cy="48.60" r="1.4"/><circle cx="342.60" cy="54.30" r="1.4"/><circle cx="347.73" cy="62.00" r="1.4"/><circle cx="352.86" cy="66.20" r="1.4"/><circle cx="357.98" cy="63.40" r="1.4"/><circle cx="363.11" cy="56.20" r="1.4"/></g>
<g fill="#111"><circle cx="214.40" cy="75.50" r="1.4"/><circle cx="219.53" cy="76.30" r="1.4"/><circle cx="224.66" cy="80.90" r="1.4"/><circle cx="229.78" cy="82.80" r="1.4"/><circle cx="234.91" cy="82.80" r="1.4"/><circle cx="240.04" cy="79.00" r="1.4"/><circle cx="245.17" cy="75.50" r="1.4"/><circle cx="250.30" cy="74.20" r="1.4"/><circle cx="255.42" cy="73.60" r="1.4"/><circle cx="260.55" cy="74.70" r="1.4"/><circle cx="265.68" cy="75.50" r="1.4"/><circle cx="270.81" cy="73.60" r="1.4"/><circle cx="275.94" cy="70.10" r="1.4"/><circle cx="281.06" cy="67.40" r="1.4"/><circle cx="286.19" cy="66.30" r="1.4"/><circle cx="291.32" cy="65.60" r="1.4"/><circle cx="296.45" cy="63.70" r="1.4"/><circle cx="301.58" cy="61.20" r="1.4"/><circle cx="306.70" cy="58.80" r="1.4"/><circle cx="311.83" cy="55.70" r="1.4"/><circle cx="316.96" cy="54.10" r="1.4"/><circle cx="322.09" cy="51.70" r="1.4"/><circle cx="327.22" cy="47.50" r="1.4"/><circle cx="332.34" cy="41.60" r="1.4"/><circle cx="337.47" cy="38.60" r="1.4"/><circle cx="342.60" cy="36.50" r="1.4"/><circle cx="347.73" cy="35.50" r="1.4"/><circle cx="352.86" cy="33.30" r="1.4"/><circle cx="357.98" cy="28.30" r="1.4"/><circle cx="363.11" cy="21.10" r="1.4"/></g>
<g fill="#ff3c3c"><circle cx="214.40" cy="69.30" r="1.4"/><circle cx="219.53" cy="70.10" r="1.4"/><circle cx="224.66" cy="76.80" r="1.4"/><circle cx="229.78" cy="82.20" r="1.4"/><circle cx="234.91" cy="84.90" r="1.4"/><circle cx="240.04" cy="87.60" r="1.4"/><circle cx="245.17" cy="90.80" r="1.4"/><circle cx="250.30" cy="93.50" r="1.4"/><circle cx="255.42" cy="97.00" r="1.4"/><circle cx="260.55" cy="99.30" r="1.4"/><circle cx="265.68" cy="101.20" r="1.4"/><circle cx="270.81" cy="100.30" r="1.4"/><circle cx="275.94" cy="99.70" r="1.4"/><circle cx="281.06" cy="98.50" r="1.4"/><circle cx="286.19" cy="97.00" r="1.4"/><circle cx="291.32" cy="94.40" r="1.4"/><circle cx="296.45" cy="85.60" r="1.4"/><circle cx="301.58" cy="78.90" r="1.4"/><circle cx="306.70" cy="72.20" r="1.4"/><circle cx="311.83" cy="70.50" r="1.4"/><circle cx="316.96" cy="71.40" r="1.4"/><circle cx="322.09" cy="71.40" r="1.4"/><circle cx="327.22" cy="66.60" r="1.4"/><circle cx="332.34" cy="59.00" r="1.4"/><circle cx="337.47" cy="53.20" r="1.4"/><circle cx="342.60" cy="53.80" r="1.4"/><circle cx="347.73" cy="58.80" r="1.4"/><circle cx="352.86" cy="62.90" r="1.4"/><circle cx="357.98" cy="58.30" r="1.4"/><circle cx="363.11" cy="49.40" r="1.4"/></g>
<g fill="#1e9ff2"><circle cx="214.40" cy="60.20" r="1.4"/><circle cx="219.53" cy="61.30" r="1.4"/><circle cx="224.66" cy="66.60" r="1.4"/><circle cx="229.78" cy="74.20" r="1.4"/><circle cx="234.91" cy="80.90" r="1.4"/><circle cx="240.04" cy="86.20" r="1.4"/><circle cx="245.17" cy="91.60" r="1.4"/><circle cx="250.30" cy="97.00" r="1.4"/><circle cx="255.42" cy="102.50" r="1.4"/><circle cx="260.55" cy="108.00" r="1.4"/><circle cx="265.68" cy="112.00" r="1.4"/><circle cx="270.81" cy="112.40" r="1.4"/><circle cx="275.94" cy="112.40" r="1.4"/><circle cx="281.06" cy="113.50" r="1.4"/><circle cx="286.19" cy="114.10" r="1.4"/><circle cx="291.32" cy="114.80" r="1.4"/><circle cx="296.45" cy="110.30" r="1.4"/><circle cx="301.58" cy="102.80" r="1.4"/><circle cx="306.70" cy="99.30" r="1.4"/><circle cx="311.83" cy="99.30" r="1.4"/><circle cx="316.96" cy="102.30" r="1.4"/><circle cx="322.09" cy="105.80" r="1.4"/><circle cx="327.22" cy="106.60" r="1.4"/><circle cx="332.34" cy="103.90" r="1.4"/><circle cx="337.47" cy="101.20" r="1.4"/><circle cx="342.60" cy="101.20" r="1.4"/><circle cx="347.73" cy="103.60" r="1.4"/><circle cx="352.86" cy="104.40" r="1.4"/><circle cx="357.98" cy="96.90" r="1.4"/><circle cx="363.11" cy="84.30" r="1.4"/></g>
<line x1="229.40" y1="95.60" x2="229.40" y2="89.00" stroke="#111" stroke-width="0.9"/>
<polygon points="227.90,89.00 230.90,89.00 229.40,85.00" fill="#111"/>
<line x1="265.70" y1="111.60" x2="265.70" y2="106.60" stroke="#ff1a1a" stroke-width="0.9"/>
<polygon points="264.20,106.60 267.20,106.60 265.70,102.60" fill="#ff1a1a"/>
<line x1="291.40" y1="126.70" x2="291.40" y2="121.00" stroke="#1e9ff2" stroke-width="0.9"/>
<polygon points="289.90,121.00 292.90,121.00 291.40,117.00" fill="#1e9ff2"/>
<line x1="352.90" y1="77.60" x2="352.90" y2="72.20" stroke="#8a2cff" stroke-width="1.1"/>
<polygon points="351.20,72.20 354.60,72.20 352.90,68.00" fill="#8a2cff"/>
<rect x="211.5" y="7.0" width="152.0" height="122.0" fill="none" stroke="#666" stroke-width="1.0"/>
<line x1="219.94" y1="129.00" x2="219.94" y2="130.30" stroke="#666" stroke-width="0.8"/>
<line x1="219.94" y1="7.00" x2="219.94" y2="8.30" stroke="#666" stroke-width="0.8"/>
<line x1="236.83" y1="129.00" x2="236.83" y2="130.30" stroke="#666" stroke-width="0.8"/>
<line x1="236.83" y1="7.00" x2="236.83" y2="8.30" stroke="#666" stroke-width="0.8"/>
<line x1="253.72" y1="129.00" x2="253.72" y2="130.30" stroke="#666" stroke-width="0.8"/>
<line x1="253.72" y1="7.00" x2="253.72" y2="8.30" stroke="#666" stroke-width="0.8"/>
<line x1="270.61" y1="129.00" x2="270.61" y2="130.30" stroke="#666" stroke-width="0.8"/>
<line x1="270.61" y1="7.00" x2="270.61" y2="8.30" stroke="#666" stroke-width="0.8"/>
<line x1="287.50" y1="129.00" x2="287.50" y2="130.30" stroke="#666" stroke-width="0.8"/>
<line x1="287.50" y1="7.00" x2="287.50" y2="8.30" stroke="#666" stroke-width="0.8"/>
<line x1="304.39" y1="129.00" x2="304.39" y2="130.30" stroke="#666" stroke-width="0.8"/>
<line x1="304.39" y1="7.00" x2="304.39" y2="8.30" stroke="#666" stroke-width="0.8"/>
<line x1="321.28" y1="129.00" x2="321.28" y2="130.30" stroke="#666" stroke-width="0.8"/>
<line x1="321.28" y1="7.00" x2="321.28" y2="8.30" stroke="#666" stroke-width="0.8"/>
<line x1="338.17" y1="129.00" x2="338.17" y2="130.30" stroke="#666" stroke-width="0.8"/>
<line x1="338.17" y1="7.00" x2="338.17" y2="8.30" stroke="#666" stroke-width="0.8"/>
<line x1="355.06" y1="129.00" x2="355.06" y2="130.30" stroke="#666" stroke-width="0.8"/>
<line x1="355.06" y1="7.00" x2="355.06" y2="8.30" stroke="#666" stroke-width="0.8"/>
<line x1="211.50" y1="129.00" x2="211.50" y2="131.20" stroke="#444" stroke-width="0.8"/>
<line x1="211.50" y1="7.00" x2="211.50" y2="9.00" stroke="#444" stroke-width="0.8"/>
<text x="212.30" y="135.20" font-family="'Liberation Serif', serif" font-size="6.8" fill="#404040" text-anchor="middle" font-weight="normal" font-style="normal" dominant-baseline="central" textLength="9.8" lengthAdjust="spacingAndGlyphs" stroke="#404040" stroke-width="0.1">1.35</text>
<line x1="228.39" y1="129.00" x2="228.39" y2="131.20" stroke="#444" stroke-width="0.8"/>
<line x1="228.39" y1="7.00" x2="228.39" y2="9.00" stroke="#444" stroke-width="0.8"/>
<text x="229.19" y="135.20" font-family="'Liberation Serif', serif" font-size="6.8" fill="#404040" text-anchor="middle" font-weight="normal" font-style="normal" dominant-baseline="central" textLength="9.8" lengthAdjust="spacingAndGlyphs" stroke="#404040" stroke-width="0.1">1.38</text>
<line x1="245.28" y1="129.00" x2="245.28" y2="131.20" stroke="#444" stroke-width="0.8"/>
<line x1="245.28" y1="7.00" x2="245.28" y2="9.00" stroke="#444" stroke-width="0.8"/>
<text x="246.08" y="135.20" font-family="'Liberation Serif', serif" font-size="6.8" fill="#404040" text-anchor="middle" font-weight="normal" font-style="normal" dominant-baseline="central" textLength="9.8" lengthAdjust="spacingAndGlyphs" stroke="#404040" stroke-width="0.1">1.41</text>
<line x1="262.17" y1="129.00" x2="262.17" y2="131.20" stroke="#444" stroke-width="0.8"/>
<line x1="262.17" y1="7.00" x2="262.17" y2="9.00" stroke="#444" stroke-width="0.8"/>
<text x="262.97" y="135.20" font-family="'Liberation Serif', serif" font-size="6.8" fill="#404040" text-anchor="middle" font-weight="normal" font-style="normal" dominant-baseline="central" textLength="9.8" lengthAdjust="spacingAndGlyphs" stroke="#404040" stroke-width="0.1">1.44</text>
<line x1="279.06" y1="129.00" x2="279.06" y2="131.20" stroke="#444" stroke-width="0.8"/>
<line x1="279.06" y1="7.00" x2="279.06" y2="9.00" stroke="#444" stroke-width="0.8"/>
<text x="279.86" y="135.20" font-family="'Liberation Serif', serif" font-size="6.8" fill="#404040" text-anchor="middle" font-weight="normal" font-style="normal" dominant-baseline="central" textLength="9.8" lengthAdjust="spacingAndGlyphs" stroke="#404040" stroke-width="0.1">1.47</text>
<line x1="295.94" y1="129.00" x2="295.94" y2="131.20" stroke="#444" stroke-width="0.8"/>
<line x1="295.94" y1="7.00" x2="295.94" y2="9.00" stroke="#444" stroke-width="0.8"/>
<text x="296.74" y="135.20" font-family="'Liberation Serif', serif" font-size="6.8" fill="#404040" text-anchor="middle" font-weight="normal" font-style="normal" dominant-baseline="central" textLength="9.8" lengthAdjust="spacingAndGlyphs" stroke="#404040" stroke-width="0.1">1.50</text>
<line x1="312.83" y1="129.00" x2="312.83" y2="131.20" stroke="#444" stroke-width="0.8"/>
<line x1="312.83" y1="7.00" x2="312.83" y2="9.00" stroke="#444" stroke-width="0.8"/>
<text x="313.63" y="135.20" font-family="'Liberation Serif', serif" font-size="6.8" fill="#404040" text-anchor="middle" font-weight="normal" font-style="normal" dominant-baseline="central" textLength="9.8" lengthAdjust="spacingAndGlyphs" stroke="#404040" stroke-width="0.1">1.53</text>
<line x1="329.72" y1="129.00" x2="329.72" y2="131.20" stroke="#444" stroke-width="0.8"/>
<line x1="329.72" y1="7.00" x2="329.72" y2="9.00" stroke="#444" stroke-width="0.8"/>
<text x="330.52" y="135.20" font-family="'Liberation Serif', serif" font-size="6.8" fill="#404040" text-anchor="middle" font-weight="normal" font-style="normal" dominant-baseline="central" textLength="9.8" lengthAdjust="spacingAndGlyphs" stroke="#404040" stroke-width="0.1">1.56</text>
<line x1="346.61" y1="129.00" x2="346.61" y2="131.20" stroke="#444" stroke-width="0.8"/>
<line x1="346.61" y1="7.00" x2="346.61" y2="9.00" stroke="#444" stroke-width="0.8"/>
<text x="347.41" y="135.20" font-family="'Liberation Serif', serif" font-size="6.8" fill="#404040" text-anchor="middle" font-weight="normal" font-style="normal" dominant-baseline="central" textLength="9.8" lengthAdjust="spacingAndGlyphs" stroke="#404040" stroke-width="0.1">1.59</text>
<line x1="363.50" y1="129.00" x2="363.50" y2="131.20" stroke="#444" stroke-width="0.8"/>
<line x1="363.50" y1="7.00" x2="363.50" y2="9.00" stroke="#444" stroke-width="0.8"/>
<text x="364.30" y="135.20" font-family="'Liberation Serif', serif" font-size="6.8" fill="#404040" text-anchor="middle" font-weight="normal" font-style="normal" dominant-baseline="central" textLength="9.8" lengthAdjust="spacingAndGlyphs" stroke="#404040" stroke-width="0.1">1.62</text>
<line x1="209.30" y1="129.00" x2="211.50" y2="129.00" stroke="#444" stroke-width="0.8"/>
<text x="207.90" y="128.70" font-family="'Liberation Serif', serif" font-size="6.8" fill="#404040" text-anchor="end" font-weight="normal" font-style="normal" dominant-baseline="central" textLength="9.8" lengthAdjust="spacingAndGlyphs" stroke="#404040" stroke-width="0.1">0.66</text>
<line x1="209.30" y1="108.67" x2="211.50" y2="108.67" stroke="#444" stroke-width="0.8"/>
<text x="207.90" y="108.37" font-family="'Liberation Serif', serif" font-size="6.8" fill="#404040" text-anchor="end" font-weight="normal" font-style="normal" dominant-baseline="central" textLength="9.8" lengthAdjust="spacingAndGlyphs" stroke="#404040" stroke-width="0.1">0.68</text>
<line x1="209.30" y1="88.33" x2="211.50" y2="88.33" stroke="#444" stroke-width="0.8"/>
<text x="207.90" y="88.03" font-family="'Liberation Serif', serif" font-size="6.8" fill="#404040" text-anchor="end" font-weight="normal" font-style="normal" dominant-baseline="central" textLength="9.8" lengthAdjust="spacingAndGlyphs" stroke="#404040" stroke-width="0.1">0.70</text>
<line x1="209.30" y1="68.00" x2="211.50" y2="68.00" stroke="#444" stroke-width="0.8"/>
<text x="207.90" y="67.70" font-family="'Liberation Serif', serif" font-size="6.8" fill="#404040" text-anchor="end" font-weight="normal" font-style="normal" dominant-baseline="central" textLength="9.8" lengthAdjust="spacingAndGlyphs" stroke="#404040" stroke-width="0.1">0.72</text>
<line x1="209.30" y1="47.67" x2="211.50" y2="47.67" stroke="#444" stroke-width="0.8"/>
<text x="207.90" y="47.37" font-family="'Liberation Serif', serif" font-size="6.8" fill="#404040" text-anchor="end" font-weight="normal" font-style="normal" dominant-baseline="central" textLength="9.8" lengthAdjust="spacingAndGlyphs" stroke="#404040" stroke-width="0.1">0.74</text>
<line x1="209.30" y1="27.33" x2="211.50" y2="27.33" stroke="#444" stroke-width="0.8"/>
<text x="207.90" y="27.03" font-family="'Liberation Serif', serif" font-size="6.8" fill="#404040" text-anchor="end" font-weight="normal" font-style="normal" dominant-baseline="central" textLength="9.8" lengthAdjust="spacingAndGlyphs" stroke="#404040" stroke-width="0.1">0.76</text>
<line x1="209.30" y1="7.00" x2="211.50" y2="7.00" stroke="#444" stroke-width="0.8"/>
<text x="207.90" y="6.70" font-family="'Liberation Serif', serif" font-size="6.8" fill="#404040" text-anchor="end" font-weight="normal" font-style="normal" dominant-baseline="central" textLength="9.8" lengthAdjust="spacingAndGlyphs" stroke="#404040" stroke-width="0.1">0.78</text>
<line x1="210.20" y1="118.83" x2="211.50" y2="118.83" stroke="#444" stroke-width="0.8"/>
<line x1="210.20" y1="98.50" x2="211.50" y2="98.50" stroke="#444" stroke-width="0.8"/>
<line x1="210.20" y1="78.17" x2="211.50" y2="78.17" stroke="#444" stroke-width="0.8"/>
<line x1="210.20" y1="57.83" x2="211.50" y2="57.83" stroke="#444" stroke-width="0.8"/>
<line x1="210.20" y1="37.50" x2="211.50" y2="37.50" stroke="#444" stroke-width="0.8"/>
<line x1="210.20" y1="17.17" x2="211.50" y2="17.17" stroke="#444" stroke-width="0.8"/>
<text x="214.20" y="14.40" font-family="'Liberation Serif', serif" font-size="11" fill="#111" text-anchor="start" font-weight="bold" font-style="normal" dominant-baseline="central">(b)</text>
<text x="289.50" y="19.00" font-family="'Liberation Serif', serif" font-size="7.6" fill="#111" text-anchor="middle" font-weight="normal" font-style="normal" dominant-baseline="central">L-Valine</text>
<text x="288.10" y="143.30" font-family="'Liberation Serif', serif" font-size="7.5" fill="#222" text-anchor="middle" font-weight="bold" font-style="normal" dominant-baseline="central" textLength="49.6" lengthAdjust="spacingAndGlyphs">Frequency(THz)</text>
<text x="193.30" y="67.30" font-family="'Liberation Serif', serif" font-size="7.4" fill="#1a1a1a" text-anchor="middle" font-weight="normal" font-style="normal" dominant-baseline="central" transform="rotate(-90 193.3 67.3)" stroke="#1a1a1a" stroke-width="0.15">Transmission</text>
<line x1="214.00" y1="106.30" x2="224.40" y2="106.30" stroke="#777" stroke-width="0.6"/>
<circle cx="219.3" cy="106.3" r="1.3" fill="#111"/>
<text x="225.90" y="106.30" font-family="'Liberation Serif', serif" font-size="6.0" fill="#3a3a3a" text-anchor="start" font-weight="normal" font-style="normal" dominant-baseline="central" textLength="18.0" lengthAdjust="spacingAndGlyphs">0mmol/L</text>
<line x1="214.00" y1="112.40" x2="224.40" y2="112.40" stroke="#ff9a9a" stroke-width="0.6"/>
<circle cx="219.3" cy="112.4" r="1.3" fill="#ff3c3c"/>
<text x="225.90" y="112.40" font-family="'Liberation Serif', serif" font-size="6.0" fill="#3a3a3a" text-anchor="start" font-weight="normal" font-style="normal" dominant-baseline="central" textLength="18.0" lengthAdjust="spacingAndGlyphs">5mmol/L</text>
<line x1="214.00" y1="118.50" x2="224.40" y2="118.50" stroke="#8fd0f8" stroke-width="0.6"/>
<circle cx="219.3" cy="118.5" r="1.3" fill="#1e9ff2"/>
<text x="225.90" y="118.50" font-family="'Liberation Serif', serif" font-size="6.0" fill="#3a3a3a" text-anchor="start" font-weight="normal" font-style="normal" dominant-baseline="central" textLength="20.6" lengthAdjust="spacingAndGlyphs">10mmol/L</text>
<line x1="214.00" y1="124.40" x2="224.40" y2="124.40" stroke="#e0a0f8" stroke-width="0.6"/>
<circle cx="219.3" cy="124.4" r="1.3" fill="#c43cf2"/>
<text x="225.90" y="124.40" font-family="'Liberation Serif', serif" font-size="6.0" fill="#3a3a3a" text-anchor="start" font-weight="normal" font-style="normal" dominant-baseline="central" textLength="20.6" lengthAdjust="spacingAndGlyphs">20mmol/L</text>
<rect x="389.3" y="5.5" width="157.2" height="123.69999999999999" fill="none" stroke="#555" stroke-width="0.9"/>
<line x1="405.50" y1="116.39" x2="532.30" y2="18.88" stroke="#ffa8a8" stroke-width="1.0"/>
<rect x="404.00" y="115.80" width="3" height="3" fill="#000"/>
<rect x="435.70" y="90.14" width="3" height="3" fill="#000"/>
<line x1="437.20" y1="88.84" x2="437.20" y2="94.44" stroke="#333" stroke-width="0.6"/>
<rect x="467.40" y="65.96" width="3" height="3" fill="#000"/>
<rect x="530.80" y="19.07" width="3" height="3" fill="#000"/>
<line x1="532.30" y1="17.07" x2="532.30" y2="24.07" stroke="#333" stroke-width="0.6"/>
<line x1="405.50" y1="129.20" x2="405.50" y2="131.40" stroke="#555" stroke-width="0.8"/>
<text x="405.50" y="136.70" font-family="'Liberation Serif', serif" font-size="5.6" fill="#808080" text-anchor="middle" font-weight="normal" font-style="normal" dominant-baseline="central">0</text>
<line x1="437.20" y1="129.20" x2="437.20" y2="131.40" stroke="#555" stroke-width="0.8"/>
<text x="437.20" y="136.70" font-family="'Liberation Serif', serif" font-size="5.6" fill="#808080" text-anchor="middle" font-weight="normal" font-style="normal" dominant-baseline="central">5</text>
<line x1="468.90" y1="129.20" x2="468.90" y2="131.40" stroke="#555" stroke-width="0.8"/>
<text x="468.90" y="136.70" font-family="'Liberation Serif', serif" font-size="5.6" fill="#808080" text-anchor="middle" font-weight="normal" font-style="normal" dominant-baseline="central">10</text>
<line x1="500.60" y1="129.20" x2="500.60" y2="131.40" stroke="#555" stroke-width="0.8"/>
<text x="500.60" y="136.70" font-family="'Liberation Serif', serif" font-size="5.6" fill="#808080" text-anchor="middle" font-weight="normal" font-style="normal" dominant-baseline="central">15</text>
<line x1="532.30" y1="129.20" x2="532.30" y2="131.40" stroke="#555" stroke-width="0.8"/>
<text x="532.30" y="136.70" font-family="'Liberation Serif', serif" font-size="5.6" fill="#808080" text-anchor="middle" font-weight="normal" font-style="normal" dominant-baseline="central">20</text>
<line x1="421.35" y1="129.20" x2="421.35" y2="130.50" stroke="#555" stroke-width="0.8"/>
<line x1="453.05" y1="129.20" x2="453.05" y2="130.50" stroke="#555" stroke-width="0.8"/>
<line x1="484.75" y1="129.20" x2="484.75" y2="130.50" stroke="#555" stroke-width="0.8"/>
<line x1="516.45" y1="129.20" x2="516.45" y2="130.50" stroke="#555" stroke-width="0.8"/>
<line x1="387.10" y1="117.30" x2="389.30" y2="117.30" stroke="#555" stroke-width="0.8"/>
<text x="386.40" y="116.90" font-family="'Liberation Serif', serif" font-size="5.6" fill="#808080" text-anchor="end" font-weight="normal" font-style="normal" dominant-baseline="central">0</text>
<line x1="387.10" y1="92.62" x2="389.30" y2="92.62" stroke="#555" stroke-width="0.8"/>
<text x="386.40" y="92.22" font-family="'Liberation Serif', serif" font-size="5.6" fill="#808080" text-anchor="end" font-weight="normal" font-style="normal" dominant-baseline="central">50</text>
<line x1="387.10" y1="67.95" x2="389.30" y2="67.95" stroke="#555" stroke-width="0.8"/>
<text x="386.40" y="67.55" font-family="'Liberation Serif', serif" font-size="5.6" fill="#808080" text-anchor="end" font-weight="normal" font-style="normal" dominant-baseline="central">100</text>
<line x1="387.10" y1="43.28" x2="389.30" y2="43.28" stroke="#555" stroke-width="0.8"/>
<text x="386.40" y="42.88" font-family="'Liberation Serif', serif" font-size="5.6" fill="#808080" text-anchor="end" font-weight="normal" font-style="normal" dominant-baseline="central">150</text>
<line x1="387.10" y1="18.60" x2="389.30" y2="18.60" stroke="#555" stroke-width="0.8"/>
<text x="386.40" y="18.20" font-family="'Liberation Serif', serif" font-size="5.6" fill="#808080" text-anchor="end" font-weight="normal" font-style="normal" dominant-baseline="central">200</text>
<line x1="388.00" y1="104.96" x2="389.30" y2="104.96" stroke="#555" stroke-width="0.8"/>
<line x1="388.00" y1="80.29" x2="389.30" y2="80.29" stroke="#555" stroke-width="0.8"/>
<line x1="388.00" y1="55.61" x2="389.30" y2="55.61" stroke="#555" stroke-width="0.8"/>
<line x1="388.00" y1="30.94" x2="389.30" y2="30.94" stroke="#555" stroke-width="0.8"/>
<rect x="401.9" y="12.0" width="3.1" height="3.1" fill="#000"/>
<text x="412.40" y="13.60" font-family="'Liberation Serif', serif" font-size="7.8" fill="#111" text-anchor="start" font-weight="normal" font-style="normal" dominant-baseline="central" textLength="43.8" lengthAdjust="spacingAndGlyphs">Resonance Pick</text>
<line x1="395.20" y1="21.90" x2="410.80" y2="21.90" stroke="#ff9090" stroke-width="1.2"/>
<text x="412.40" y="21.90" font-family="'Liberation Serif', serif" font-size="7.8" fill="#111" text-anchor="start" font-weight="normal" font-style="normal" dominant-baseline="central" textLength="36.9" lengthAdjust="spacingAndGlyphs">Linear fitting</text>
<text x="536.00" y="13.80" font-family="'Liberation Serif', serif" font-size="11" fill="#111" text-anchor="start" font-weight="bold" font-style="normal" dominant-baseline="central">(c)</text>
<text x="466.50" y="144.20" font-family="'Liberation Serif', serif" font-size="7.6" fill="#1a1a1a" text-anchor="middle" font-weight="normal" font-style="normal" dominant-baseline="central" stroke="#1a1a1a" stroke-width="0.15">Solution concentration(mmol/L)</text>
<text x="372.20" y="65.00" font-family="'Liberation Serif', serif" font-size="7.05" fill="#1a1a1a" text-anchor="middle" font-weight="normal" font-style="normal" dominant-baseline="central" transform="rotate(-90 372.2 65)" stroke="#1a1a1a" stroke-width="0.12">Frequency shift(GHz)</text>
<polyline points="23.20,236.40 23.70,236.52 24.20,236.63 24.70,236.74 25.20,236.84 25.70,236.94 26.20,237.03 26.70,237.11 27.20,237.18 27.70,237.23 28.20,237.27 28.70,237.29 29.20,237.30 29.70,237.29 30.20,237.28 30.70,237.26 31.20,237.23 31.70,237.20 32.20,237.17 32.70,237.13 33.20,237.09 33.70,237.05 34.20,237.00 34.70,236.96 35.20,236.93 35.70,236.89 36.20,236.86 36.70,236.84 37.20,236.82 37.70,236.80 38.20,236.80 38.70,236.82 39.20,236.86 39.70,236.94 40.20,237.03 40.70,237.15 41.20,237.28 41.70,237.43 42.20,237.58 42.70,237.74 43.20,237.91 43.70,238.07 44.20,238.23 44.70,238.38 45.20,238.52 45.70,238.65 46.20,238.79 46.70,238.94 47.20,239.10 47.70,239.26 48.20,239.43 48.70,239.60 49.20,239.77 49.70,239.93 50.20,240.10 50.70,240.25 51.20,240.39 51.70,240.52 52.20,240.64 52.70,240.73 53.20,240.81 53.70,240.86 54.20,240.89 54.70,240.90 55.20,240.89 55.70,240.86 56.20,240.83 56.70,240.79 57.20,240.75 57.70,240.70 58.20,240.65 58.70,240.61 59.20,240.57 59.70,240.54 60.20,240.51 60.70,240.50 61.20,240.50 61.70,240.51 62.20,240.53 62.70,240.55 63.20,240.59 63.70,240.63 64.20,240.67 64.70,240.73 65.20,240.78 65.70,240.84 66.20,240.91 66.70,240.98 67.20,241.05 67.70,241.13 68.20,241.21 68.70,241.29 69.20,241.37 69.70,241.45 70.20,241.53 70.70,241.64 71.20,241.77 71.70,241.91 72.20,242.07 72.70,242.25 73.20,242.43 73.70,242.62 74.20,242.81 74.70,243.00 75.20,243.18 75.70,243.36 76.20,243.53 76.70,243.68 77.20,243.82 77.70,243.94 78.20,244.04 78.70,244.12 79.20,244.21 79.70,244.28 80.20,244.36 80.70,244.43 81.20,244.50 81.70,244.56 82.20,244.62 82.70,244.68 83.20,244.74 83.70,244.80 84.20,244.85 84.70,244.90 85.20,244.96 85.70,245.01 86.20,245.06 86.70,245.12 87.20,245.17 87.70,245.22 88.20,245.28 88.70,245.34 89.20,245.40 89.70,245.46 90.20,245.53 90.70,245.60 91.20,245.68 91.70,245.77 92.20,245.86 92.70,245.95 93.20,246.04 93.70,246.13 94.20,246.22 94.70,246.30 95.20,246.37 95.70,246.44 96.20,246.50 96.70,246.55 97.20,246.58 97.70,246.60 98.20,246.60 98.70,246.59 99.20,246.57 99.70,246.54 100.20,246.50 100.70,246.46 101.20,246.41 101.70,246.35 102.20,246.29 102.70,246.23 103.20,246.16 103.70,246.09 104.20,246.02 104.70,245.95 105.20,245.89 105.70,245.82 106.20,245.76 106.70,245.70 107.20,245.65 107.70,245.61 108.20,245.57 108.70,245.54 109.20,245.51 109.70,245.50 110.20,245.50 110.70,245.52 111.20,245.56 111.70,245.62 112.20,245.69 112.70,245.78 113.20,245.88 113.70,245.99 114.20,246.10 114.70,246.22 115.20,246.35 115.70,246.47 116.20,246.60 116.70,246.72 117.20,246.83 117.70,246.94 118.20,247.04 118.70,247.14 119.20,247.26 119.70,247.37 120.20,247.50 120.70,247.62 121.20,247.74 121.70,247.86 122.20,247.97 122.70,248.07 123.20,248.17 123.70,248.25 124.20,248.32 124.70,248.38 125.20,248.41 125.70,248.45 126.20,248.47 126.70,248.50 127.20,248.52 127.70,248.54 128.20,248.56 128.70,248.58 129.20,248.60 129.70,248.61 130.20,248.63 130.70,248.64 131.20,248.66 131.70,248.67 132.20,248.69 132.70,248.71 133.20,248.72 133.70,248.74 134.20,248.76 134.70,248.79 135.20,248.81 135.70,248.84 136.20,248.87 136.70,248.89 137.20,248.93 137.70,248.96 138.20,248.99 138.70,249.02 139.20,249.06 139.70,249.09 140.20,249.13 140.70,249.17 141.20,249.20 141.70,249.24 142.20,249.28 142.70,249.32 143.20,249.36 143.70,249.40 144.20,249.44 144.70,249.48 145.20,249.52 145.70,249.56 146.20,249.61 146.70,249.66 147.20,249.72 147.70,249.78 148.20,249.84 148.70,249.90 149.20,249.95 149.70,250.01 150.20,250.07 150.70,250.12 151.20,250.16 151.70,250.20 152.20,250.24 152.70,250.27 153.20,250.29 153.70,250.30 154.20,250.30 154.70,250.29 155.20,250.27 155.70,250.24 156.20,250.21 156.70,250.17 157.20,250.12 157.70,250.08 158.20,250.03 158.70,249.99 159.20,249.94 159.70,249.90 160.20,249.86 160.70,249.84 161.20,249.81 161.70,249.80 162.20,249.80 162.70,249.82 163.20,249.85 163.70,249.90 164.20,249.96 164.70,250.03 165.20,250.11 165.70,250.20 166.20,250.29 166.70,250.37 167.20,250.46 167.70,250.54 168.20,250.62 168.70,250.68 169.20,250.74 169.70,250.78 170.20,250.81 170.70,250.83 171.20,250.86 171.70,250.88 172.20,250.90 172.70,250.92 173.20,250.94 173.70,250.96 174.20,250.97 174.70,250.98 175.20,250.99 175.70,251.00 176.20,251.00" fill="none" stroke="#ff2424" stroke-width="1.5" stroke-linejoin="round" stroke-linecap="round"/>
<g fill="#c43cf2"><circle cx="23.50" cy="172.44" r="1.4"/><circle cx="26.99" cy="173.41" r="1.4"/><circle cx="30.48" cy="174.35" r="1.4"/><circle cx="33.97" cy="175.26" r="1.4"/><circle cx="37.46" cy="176.14" r="1.4"/><circle cx="40.95" cy="176.94" r="1.4"/><circle cx="44.44" cy="177.61" r="1.4"/><circle cx="47.93" cy="178.29" r="1.4"/><circle cx="51.42" cy="179.10" r="1.4"/><circle cx="54.91" cy="180.18" r="1.4"/><circle cx="58.40" cy="181.97" r="1.4"/><circle cx="61.89" cy="184.32" r="1.4"/><circle cx="65.38" cy="187.03" r="1.4"/><circle cx="68.87" cy="189.99" r="1.4"/><circle cx="72.36" cy="192.37" r="1.4"/><circle cx="75.85" cy="194.44" r="1.4"/><circle cx="79.34" cy="197.12" r="1.4"/><circle cx="82.83" cy="201.71" r="1.4"/><circle cx="86.32" cy="205.46" r="1.4"/><circle cx="89.81" cy="208.05" r="1.4"/><circle cx="93.30" cy="209.84" r="1.4"/><circle cx="96.79" cy="210.79" r="1.4"/><circle cx="100.28" cy="211.94" r="1.4"/><circle cx="103.77" cy="215.00" r="1.4"/><circle cx="107.26" cy="218.38" r="1.4"/><circle cx="110.75" cy="220.20" r="1.4"/><circle cx="114.24" cy="220.20" r="1.4"/><circle cx="117.73" cy="220.14" r="1.4"/><circle cx="121.22" cy="219.20" r="1.4"/><circle cx="124.71" cy="217.89" r="1.4"/><circle cx="128.20" cy="216.61" r="1.4"/><circle cx="131.69" cy="214.96" r="1.4"/><circle cx="135.18" cy="212.15" r="1.4"/><circle cx="138.67" cy="209.15" r="1.4"/><circle cx="142.16" cy="206.78" r="1.4"/><circle cx="145.65" cy="205.81" r="1.4"/><circle cx="149.14" cy="205.66" r="1.4"/><circle cx="152.63" cy="205.56" r="1.4"/><circle cx="156.12" cy="205.23" r="1.4"/><circle cx="159.61" cy="203.45" r="1.4"/><circle cx="163.10" cy="201.47" r="1.4"/><circle cx="166.59" cy="200.06" r="1.4"/><circle cx="170.08" cy="198.69" r="1.4"/><circle cx="173.57" cy="197.20" r="1.4"/></g>
<g fill="#1e9ff2"><circle cx="23.50" cy="179.23" r="1.4"/><circle cx="26.99" cy="179.68" r="1.4"/><circle cx="30.48" cy="180.46" r="1.4"/><circle cx="33.97" cy="181.84" r="1.4"/><circle cx="37.46" cy="183.56" r="1.4"/><circle cx="40.95" cy="185.26" r="1.4"/><circle cx="44.44" cy="187.17" r="1.4"/><circle cx="47.93" cy="188.98" r="1.4"/><circle cx="51.42" cy="190.27" r="1.4"/><circle cx="54.91" cy="191.04" r="1.4"/><circle cx="58.40" cy="191.89" r="1.4"/><circle cx="61.89" cy="193.59" r="1.4"/><circle cx="65.38" cy="196.32" r="1.4"/><circle cx="68.87" cy="199.09" r="1.4"/><circle cx="72.36" cy="201.14" r="1.4"/><circle cx="75.85" cy="202.91" r="1.4"/><circle cx="79.34" cy="204.88" r="1.4"/><circle cx="82.83" cy="207.33" r="1.4"/><circle cx="86.32" cy="209.69" r="1.4"/><circle cx="89.81" cy="211.93" r="1.4"/><circle cx="93.30" cy="213.63" r="1.4"/><circle cx="96.79" cy="214.63" r="1.4"/><circle cx="100.28" cy="215.73" r="1.4"/><circle cx="103.77" cy="218.34" r="1.4"/><circle cx="107.26" cy="219.50" r="1.4"/><circle cx="110.75" cy="219.50" r="1.4"/><circle cx="114.24" cy="219.48" r="1.4"/><circle cx="117.73" cy="218.29" r="1.4"/><circle cx="121.22" cy="216.48" r="1.4"/><circle cx="124.71" cy="215.00" r="1.4"/><circle cx="128.20" cy="213.40" r="1.4"/><circle cx="131.69" cy="211.46" r="1.4"/><circle cx="135.18" cy="209.63" r="1.4"/><circle cx="138.67" cy="208.39" r="1.4"/><circle cx="142.16" cy="207.89" r="1.4"/><circle cx="145.65" cy="207.70" r="1.4"/><circle cx="149.14" cy="208.22" r="1.4"/><circle cx="152.63" cy="209.10" r="1.4"/><circle cx="156.12" cy="209.56" r="1.4"/><circle cx="159.61" cy="209.77" r="1.4"/><circle cx="163.10" cy="209.89" r="1.4"/><circle cx="166.59" cy="209.87" r="1.4"/><circle cx="170.08" cy="209.71" r="1.4"/><circle cx="173.57" cy="209.42" r="1.4"/></g>
<g fill="#ff3c3c"><circle cx="23.50" cy="184.17" r="1.4"/><circle cx="26.99" cy="185.76" r="1.4"/><circle cx="30.48" cy="186.80" r="1.4"/><circle cx="33.97" cy="187.65" r="1.4"/><circle cx="37.46" cy="188.54" r="1.4"/><circle cx="40.95" cy="189.67" r="1.4"/><circle cx="44.44" cy="191.02" r="1.4"/><circle cx="47.93" cy="192.57" r="1.4"/><circle cx="51.42" cy="194.38" r="1.4"/><circle cx="54.91" cy="196.64" r="1.4"/><circle cx="58.40" cy="199.09" r="1.4"/><circle cx="61.89" cy="201.40" r="1.4"/><circle cx="65.38" cy="203.72" r="1.4"/><circle cx="68.87" cy="206.24" r="1.4"/><circle cx="72.36" cy="209.19" r="1.4"/><circle cx="75.85" cy="211.56" r="1.4"/><circle cx="79.34" cy="213.94" r="1.4"/><circle cx="82.83" cy="216.53" r="1.4"/><circle cx="86.32" cy="218.70" r="1.4"/><circle cx="89.81" cy="220.54" r="1.4"/><circle cx="93.30" cy="221.88" r="1.4"/><circle cx="96.79" cy="222.71" r="1.4"/><circle cx="100.28" cy="223.52" r="1.4"/><circle cx="103.77" cy="224.92" r="1.4"/><circle cx="107.26" cy="225.44" r="1.4"/><circle cx="110.75" cy="224.54" r="1.4"/><circle cx="114.24" cy="223.37" r="1.4"/><circle cx="117.73" cy="222.24" r="1.4"/><circle cx="121.22" cy="221.06" r="1.4"/><circle cx="124.71" cy="219.90" r="1.4"/><circle cx="128.20" cy="218.85" r="1.4"/><circle cx="131.69" cy="217.55" r="1.4"/><circle cx="135.18" cy="214.31" r="1.4"/><circle cx="138.67" cy="210.96" r="1.4"/><circle cx="142.16" cy="209.24" r="1.4"/><circle cx="145.65" cy="208.38" r="1.4"/><circle cx="149.14" cy="208.23" r="1.4"/><circle cx="152.63" cy="208.14" r="1.4"/><circle cx="156.12" cy="207.83" r="1.4"/><circle cx="159.61" cy="205.98" r="1.4"/><circle cx="163.10" cy="203.74" r="1.4"/><circle cx="166.59" cy="201.73" r="1.4"/><circle cx="170.08" cy="199.90" r="1.4"/><circle cx="173.57" cy="198.48" r="1.4"/></g>
<g fill="#111"><circle cx="23.50" cy="187.02" r="1.4"/><circle cx="26.99" cy="187.86" r="1.4"/><circle cx="30.48" cy="188.76" r="1.4"/><circle cx="33.97" cy="189.66" r="1.4"/><circle cx="37.46" cy="190.68" r="1.4"/><circle cx="40.95" cy="191.92" r="1.4"/><circle cx="44.44" cy="193.53" r="1.4"/><circle cx="47.93" cy="195.41" r="1.4"/><circle cx="51.42" cy="197.43" r="1.4"/><circle cx="54.91" cy="199.79" r="1.4"/><circle cx="58.40" cy="202.21" r="1.4"/><circle cx="61.89" cy="204.29" r="1.4"/><circle cx="65.38" cy="206.57" r="1.4"/><circle cx="68.87" cy="210.66" r="1.4"/><circle cx="72.36" cy="214.10" r="1.4"/><circle cx="75.85" cy="216.92" r="1.4"/><circle cx="79.34" cy="218.79" r="1.4"/><circle cx="82.83" cy="219.99" r="1.4"/><circle cx="86.32" cy="221.80" r="1.4"/><circle cx="89.81" cy="224.96" r="1.4"/><circle cx="93.30" cy="228.62" r="1.4"/><circle cx="96.79" cy="231.33" r="1.4"/><circle cx="100.28" cy="232.30" r="1.4"/><circle cx="103.77" cy="231.97" r="1.4"/><circle cx="107.26" cy="231.48" r="1.4"/><circle cx="110.75" cy="231.03" r="1.4"/><circle cx="114.24" cy="230.40" r="1.4"/><circle cx="117.73" cy="229.22" r="1.4"/><circle cx="121.22" cy="227.86" r="1.4"/><circle cx="124.71" cy="226.67" r="1.4"/><circle cx="128.20" cy="225.53" r="1.4"/><circle cx="131.69" cy="224.62" r="1.4"/><circle cx="135.18" cy="224.07" r="1.4"/><circle cx="138.67" cy="223.48" r="1.4"/><circle cx="142.16" cy="221.91" r="1.4"/><circle cx="145.65" cy="220.54" r="1.4"/><circle cx="149.14" cy="220.50" r="1.4"/><circle cx="152.63" cy="220.50" r="1.4"/><circle cx="156.12" cy="220.50" r="1.4"/><circle cx="159.61" cy="220.50" r="1.4"/><circle cx="163.10" cy="218.71" r="1.4"/><circle cx="166.59" cy="215.21" r="1.4"/><circle cx="170.08" cy="211.61" r="1.4"/><circle cx="173.57" cy="208.50" r="1.4"/></g>
<rect x="23.0" y="152.0" width="153.3" height="123.69999999999999" fill="none" stroke="#8a8a8a" stroke-width="1.3"/>
<line x1="176.30" y1="152.00" x2="176.30" y2="275.70" stroke="#ffa0a0" stroke-width="1.0"/>
<line x1="23.00" y1="275.70" x2="23.00" y2="278.20" stroke="#777" stroke-width="0.8"/>
<line x1="23.00" y1="152.00" x2="23.00" y2="154.50" stroke="#777" stroke-width="0.8"/>
<line x1="42.16" y1="275.70" x2="42.16" y2="277.20" stroke="#777" stroke-width="0.8"/>
<line x1="42.16" y1="152.00" x2="42.16" y2="153.50" stroke="#777" stroke-width="0.8"/>
<line x1="61.33" y1="275.70" x2="61.33" y2="278.20" stroke="#777" stroke-width="0.8"/>
<line x1="61.33" y1="152.00" x2="61.33" y2="154.50" stroke="#777" stroke-width="0.8"/>
<line x1="80.49" y1="275.70" x2="80.49" y2="277.20" stroke="#777" stroke-width="0.8"/>
<line x1="80.49" y1="152.00" x2="80.49" y2="153.50" stroke="#777" stroke-width="0.8"/>
<line x1="99.65" y1="275.70" x2="99.65" y2="278.20" stroke="#777" stroke-width="0.8"/>
<line x1="99.65" y1="152.00" x2="99.65" y2="154.50" stroke="#777" stroke-width="0.8"/>
<line x1="118.81" y1="275.70" x2="118.81" y2="277.20" stroke="#777" stroke-width="0.8"/>
<line x1="118.81" y1="152.00" x2="118.81" y2="153.50" stroke="#777" stroke-width="0.8"/>
<line x1="137.98" y1="275.70" x2="137.98" y2="278.20" stroke="#777" stroke-width="0.8"/>
<line x1="137.98" y1="152.00" x2="137.98" y2="154.50" stroke="#777" stroke-width="0.8"/>
<line x1="157.14" y1="275.70" x2="157.14" y2="277.20" stroke="#777" stroke-width="0.8"/>
<line x1="157.14" y1="152.00" x2="157.14" y2="153.50" stroke="#777" stroke-width="0.8"/>
<line x1="176.30" y1="275.70" x2="176.30" y2="278.20" stroke="#777" stroke-width="0.8"/>
<line x1="176.30" y1="152.00" x2="176.30" y2="154.50" stroke="#777" stroke-width="0.8"/>
<line x1="21.50" y1="274.80" x2="23.00" y2="274.80" stroke="#777" stroke-width="0.8"/>
<line x1="20.50" y1="259.40" x2="23.00" y2="259.40" stroke="#777" stroke-width="0.8"/>
<line x1="21.50" y1="244.00" x2="23.00" y2="244.00" stroke="#777" stroke-width="0.8"/>
<line x1="20.50" y1="228.60" x2="23.00" y2="228.60" stroke="#777" stroke-width="0.8"/>
<line x1="21.50" y1="213.20" x2="23.00" y2="213.20" stroke="#777" stroke-width="0.8"/>
<line x1="20.50" y1="197.80" x2="23.00" y2="197.80" stroke="#777" stroke-width="0.8"/>
<line x1="21.50" y1="182.40" x2="23.00" y2="182.40" stroke="#777" stroke-width="0.8"/>
<line x1="20.50" y1="167.00" x2="23.00" y2="167.00" stroke="#777" stroke-width="0.8"/>
<line x1="176.30" y1="275.50" x2="178.80" y2="275.50" stroke="#ffa0a0" stroke-width="0.8"/>
<line x1="176.30" y1="263.15" x2="177.80" y2="263.15" stroke="#ffa0a0" stroke-width="0.8"/>
<line x1="176.30" y1="250.80" x2="178.80" y2="250.80" stroke="#ffa0a0" stroke-width="0.8"/>
<line x1="176.30" y1="238.45" x2="177.80" y2="238.45" stroke="#ffa0a0" stroke-width="0.8"/>
<line x1="176.30" y1="226.10" x2="178.80" y2="226.10" stroke="#ffa0a0" stroke-width="0.8"/>
<line x1="176.30" y1="213.75" x2="177.80" y2="213.75" stroke="#ffa0a0" stroke-width="0.8"/>
<line x1="176.30" y1="201.40" x2="178.80" y2="201.40" stroke="#ffa0a0" stroke-width="0.8"/>
<line x1="176.30" y1="189.05" x2="177.80" y2="189.05" stroke="#ffa0a0" stroke-width="0.8"/>
<line x1="176.30" y1="176.70" x2="178.80" y2="176.70" stroke="#ffa0a0" stroke-width="0.8"/>
<line x1="176.30" y1="164.35" x2="177.80" y2="164.35" stroke="#ffa0a0" stroke-width="0.8"/>
<line x1="176.30" y1="152.00" x2="178.80" y2="152.00" stroke="#ffa0a0" stroke-width="0.8"/>
<text x="23.80" y="283.00" font-family="'Liberation Serif', serif" font-size="6.4" fill="#2a2a2a" text-anchor="middle" font-weight="normal" font-style="normal" dominant-baseline="central" textLength="6.9" lengthAdjust="spacingAndGlyphs" stroke="#2a2a2a" stroke-width="0.15">1.2</text>
<text x="62.13" y="283.00" font-family="'Liberation Serif', serif" font-size="6.4" fill="#2a2a2a" text-anchor="middle" font-weight="normal" font-style="normal" dominant-baseline="central" textLength="6.9" lengthAdjust="spacingAndGlyphs" stroke="#2a2a2a" stroke-width="0.15">1.3</text>
<text x="100.45" y="283.00" font-family="'Liberation Serif', serif" font-size="6.4" fill="#2a2a2a" text-anchor="middle" font-weight="normal" font-style="normal" dominant-baseline="central" textLength="6.9" lengthAdjust="spacingAndGlyphs" stroke="#2a2a2a" stroke-width="0.15">1.4</text>
<text x="138.78" y="283.00" font-family="'Liberation Serif', serif" font-size="6.4" fill="#2a2a2a" text-anchor="middle" font-weight="normal" font-style="normal" dominant-baseline="central" textLength="6.9" lengthAdjust="spacingAndGlyphs" stroke="#2a2a2a" stroke-width="0.15">1.5</text>
<text x="177.10" y="283.00" font-family="'Liberation Serif', serif" font-size="6.4" fill="#2a2a2a" text-anchor="middle" font-weight="normal" font-style="normal" dominant-baseline="central" textLength="6.9" lengthAdjust="spacingAndGlyphs" stroke="#2a2a2a" stroke-width="0.15">1.6</text>
<text x="19.60" y="259.00" font-family="'Liberation Serif', serif" font-size="6.4" fill="#2a2a2a" text-anchor="end" font-weight="normal" font-style="normal" dominant-baseline="central" textLength="6.9" lengthAdjust="spacingAndGlyphs" stroke="#2a2a2a" stroke-width="0.15">0.5</text>
<text x="19.60" y="228.20" font-family="'Liberation Serif', serif" font-size="6.4" fill="#2a2a2a" text-anchor="end" font-weight="normal" font-style="normal" dominant-baseline="central" textLength="6.9" lengthAdjust="spacingAndGlyphs" stroke="#2a2a2a" stroke-width="0.15">0.6</text>
<text x="19.60" y="197.40" font-family="'Liberation Serif', serif" font-size="6.4" fill="#2a2a2a" text-anchor="end" font-weight="normal" font-style="normal" dominant-baseline="central" textLength="6.9" lengthAdjust="spacingAndGlyphs" stroke="#2a2a2a" stroke-width="0.15">0.7</text>
<text x="19.60" y="166.60" font-family="'Liberation Serif', serif" font-size="6.4" fill="#2a2a2a" text-anchor="end" font-weight="normal" font-style="normal" dominant-baseline="central" textLength="6.9" lengthAdjust="spacingAndGlyphs" stroke="#2a2a2a" stroke-width="0.15">0.8</text>
<text x="180.00" y="275.50" font-family="'Liberation Serif', serif" font-size="5.6" fill="#ff8080" text-anchor="start" font-weight="normal" font-style="normal" dominant-baseline="central">0.0</text>
<text x="180.00" y="250.80" font-family="'Liberation Serif', serif" font-size="5.6" fill="#ff8080" text-anchor="start" font-weight="normal" font-style="normal" dominant-baseline="central">0.2</text>
<text x="180.00" y="226.10" font-family="'Liberation Serif', serif" font-size="5.6" fill="#ff8080" text-anchor="start" font-weight="normal" font-style="normal" dominant-baseline="central">0.4</text>
<text x="180.00" y="201.40" font-family="'Liberation Serif', serif" font-size="5.6" fill="#ff8080" text-anchor="start" font-weight="normal" font-style="normal" dominant-baseline="central">0.6</text>
<text x="180.00" y="176.70" font-family="'Liberation Serif', serif" font-size="5.6" fill="#ff8080" text-anchor="start" font-weight="normal" font-style="normal" dominant-baseline="central">0.8</text>
<text x="180.00" y="152.00" font-family="'Liberation Serif', serif" font-size="5.6" fill="#ff8080" text-anchor="start" font-weight="normal" font-style="normal" dominant-baseline="central">1.0</text>
<text x="25.70" y="158.40" font-family="'Liberation Serif', serif" font-size="11" fill="#111" text-anchor="start" font-weight="bold" font-style="normal" dominant-baseline="central">(d)</text>
<text x="104.60" y="168.00" font-family="'Liberation Serif', serif" font-size="7.6" fill="#111" text-anchor="middle" font-weight="normal" font-style="normal" dominant-baseline="central">L-Phenylalanine</text>
<text x="100.00" y="290.40" font-family="'Liberation Serif', serif" font-size="7.5" fill="#222" text-anchor="middle" font-weight="bold" font-style="normal" dominant-baseline="central" textLength="51.0" lengthAdjust="spacingAndGlyphs">Frequency(THz)</text>
<text x="7.80" y="213.00" font-family="'Liberation Serif', serif" font-size="7.3" fill="#1a1a1a" text-anchor="middle" font-weight="normal" font-style="normal" dominant-baseline="central" transform="rotate(-90 7.8 213.0)" stroke="#1a1a1a" stroke-width="0.15">Transmission</text>
<line x1="25.00" y1="244.20" x2="36.00" y2="244.20" stroke="#777" stroke-width="0.5"/>
<circle cx="30.5" cy="244.2" r="1.1" fill="#111"/>
<text x="38.60" y="244.20" font-family="'Liberation Serif', serif" font-size="6.3" fill="#2a2a2a" text-anchor="start" font-weight="normal" font-style="normal" dominant-baseline="central" textLength="11.2" lengthAdjust="spacingAndGlyphs">0mM</text>
<line x1="25.00" y1="251.20" x2="36.00" y2="251.20" stroke="#ff9a9a" stroke-width="0.5"/>
<circle cx="30.5" cy="251.2" r="1.1" fill="#ff3c3c"/>
<text x="38.60" y="251.20" font-family="'Liberation Serif', serif" font-size="6.3" fill="#2a2a2a" text-anchor="start" font-weight="normal" font-style="normal" dominant-baseline="central" textLength="11.2" lengthAdjust="spacingAndGlyphs">5mM</text>
<line x1="25.00" y1="258.30" x2="36.00" y2="258.30" stroke="#8fd0f8" stroke-width="0.5"/>
<circle cx="30.5" cy="258.3" r="1.1" fill="#1e9ff2"/>
<text x="38.60" y="258.30" font-family="'Liberation Serif', serif" font-size="6.3" fill="#2a2a2a" text-anchor="start" font-weight="normal" font-style="normal" dominant-baseline="central" textLength="15.0" lengthAdjust="spacingAndGlyphs">10mM</text>
<line x1="25.00" y1="265.40" x2="36.00" y2="265.40" stroke="#e0a0f8" stroke-width="0.5"/>
<circle cx="30.5" cy="265.4" r="1.1" fill="#c43cf2"/>
<text x="38.60" y="265.40" font-family="'Liberation Serif', serif" font-size="6.3" fill="#2a2a2a" text-anchor="start" font-weight="normal" font-style="normal" dominant-baseline="central" textLength="15.0" lengthAdjust="spacingAndGlyphs">20mM</text>
<line x1="23.50" y1="272.70" x2="36.50" y2="272.70" stroke="#ff2424" stroke-width="1.4"/>
<text x="38.60" y="272.70" font-family="'Liberation Serif', serif" font-size="6.2" fill="#2a2a2a" text-anchor="start" font-weight="normal" font-style="normal" dominant-baseline="central" textLength="58.0" lengthAdjust="spacingAndGlyphs">L-Phenylalanine solution</text>
<polyline points="216.50,159.50 217.00,160.04 217.50,160.58 218.00,161.12 218.50,161.66 219.00,162.20 219.50,162.74 220.00,163.28 220.50,163.82 221.00,164.36 221.50,164.90 222.00,165.44 222.50,165.98 223.00,166.52 223.50,167.06 224.00,167.60 224.50,168.14 225.00,168.68 225.50,169.22 226.00,169.77 226.50,170.32 227.00,170.90 227.50,171.49 228.00,172.08 228.50,172.68 229.00,173.29 229.50,173.89 230.00,174.49 230.50,175.08 231.00,175.65 231.50,176.22 232.00,176.77 232.50,177.29 233.00,177.79 233.50,178.27 234.00,178.71 234.50,179.12 235.00,179.49 235.50,179.84 236.00,180.18 236.50,180.51 237.00,180.84 237.50,181.15 238.00,181.46 238.50,181.76 239.00,182.05 239.50,182.32 240.00,182.59 240.50,182.84 241.00,183.08 241.50,183.31 242.00,183.52 242.50,183.72 243.00,183.90 243.50,184.07 244.00,184.22 244.50,184.36 245.00,184.49 245.50,184.60 246.00,184.71 246.50,184.81 247.00,184.90 247.50,184.99 248.00,185.07 248.50,185.15 249.00,185.22 249.50,185.30 250.00,185.37 250.50,185.45 251.00,185.53 251.50,185.61 252.00,185.70 252.50,185.79 253.00,185.89 253.50,185.99 254.00,186.11 254.50,186.22 255.00,186.33 255.50,186.45 256.00,186.56 256.50,186.68 257.00,186.80 257.50,186.93 258.00,187.06 258.50,187.19 259.00,187.33 259.50,187.48 260.00,187.63 260.50,187.79 261.00,187.95 261.50,188.12 262.00,188.30 262.50,188.49 263.00,188.69 263.50,188.91 264.00,189.15 264.50,189.42 265.00,189.70 265.50,190.00 266.00,190.31 266.50,190.64 267.00,190.99 267.50,191.34 268.00,191.71 268.50,192.08 269.00,192.46 269.50,192.84 270.00,193.23 270.50,193.61 271.00,194.00 271.50,194.39 272.00,194.77 272.50,195.16 273.00,195.57 273.50,195.99 274.00,196.42 274.50,196.87 275.00,197.32 275.50,197.79 276.00,198.25 276.50,198.72 277.00,199.19 277.50,199.66 278.00,200.13 278.50,200.59 279.00,201.05 279.50,201.50 280.00,201.93 280.50,202.36 281.00,202.77 281.50,203.16 282.00,203.56 282.50,203.96 283.00,204.36 283.50,204.76 284.00,205.16 284.50,205.55 285.00,205.94 285.50,206.33 286.00,206.70 286.50,207.07 287.00,207.43 287.50,207.77 288.00,208.10 288.50,208.41 289.00,208.71 289.50,208.99 290.00,209.24 290.50,209.48 291.00,209.70 291.50,209.93 292.00,210.16 292.50,210.38 293.00,210.61 293.50,210.83 294.00,211.04 294.50,211.25 295.00,211.45 295.50,211.63 296.00,211.80 296.50,211.96 297.00,212.10 297.50,212.23 298.00,212.33 298.50,212.41 299.00,212.46 299.50,212.49 300.00,212.50 300.50,212.47 301.00,212.41 301.50,212.33 302.00,212.22 302.50,212.09 303.00,211.94 303.50,211.77 304.00,211.59 304.50,211.39 305.00,211.19 305.50,210.98 306.00,210.76 306.50,210.55 307.00,210.33 307.50,210.12 308.00,209.91 308.50,209.71 309.00,209.52 309.50,209.34 310.00,209.15 310.50,208.95 311.00,208.74 311.50,208.53 312.00,208.32 312.50,208.10 313.00,207.89 313.50,207.67 314.00,207.45 314.50,207.23 315.00,207.01 315.50,206.80 316.00,206.59 316.50,206.39 317.00,206.19 317.50,206.00 318.00,205.81 318.50,205.64 319.00,205.46 319.50,205.30 320.00,205.13 320.50,204.97 321.00,204.81 321.50,204.65 322.00,204.49 322.50,204.34 323.00,204.19 323.50,204.04 324.00,203.89 324.50,203.75 325.00,203.61 325.50,203.46 326.00,203.33 326.50,203.19 327.00,203.05 327.50,202.92 328.00,202.79 328.50,202.66 329.00,202.54 329.50,202.43 330.00,202.31 330.50,202.20 331.00,202.09 331.50,201.99 332.00,201.88 332.50,201.77 333.00,201.66 333.50,201.55 334.00,201.44 334.50,201.32 335.00,201.20 335.50,201.07 336.00,200.94 336.50,200.80 337.00,200.65 337.50,200.49 338.00,200.33 338.50,200.16 339.00,199.98 339.50,199.80 340.00,199.61 340.50,199.42 341.00,199.22 341.50,199.02 342.00,198.81 342.50,198.60 343.00,198.38 343.50,198.17 344.00,197.94 344.50,197.72 345.00,197.50 345.50,197.27 346.00,197.04 346.50,196.81 347.00,196.58 347.50,196.34 348.00,196.10 348.50,195.86 349.00,195.62 349.50,195.37 350.00,195.11 350.50,194.85 351.00,194.59 351.50,194.32 352.00,194.04 352.50,193.76 353.00,193.47 353.50,193.17 354.00,192.86 354.50,192.55 355.00,192.22 355.50,191.89 356.00,191.55 356.50,191.19 357.00,190.82 357.50,190.44 358.00,190.04 358.50,189.64 359.00,189.22 359.50,188.79 360.00,188.36 360.50,187.91 361.00,187.45 361.50,186.98 362.00,186.51 362.50,186.02 363.00,185.53 363.50,185.03 364.00,184.52 364.50,184.00" fill="none" stroke="#e0a0f8" stroke-width="0.6" stroke-linejoin="round" stroke-linecap="round"/>
<polyline points="216.50,174.60 217.00,174.98 217.50,175.35 218.00,175.72 218.50,176.10 219.00,176.47 219.50,176.85 220.00,177.22 220.50,177.59 221.00,177.97 221.50,178.34 222.00,178.71 222.50,179.08 223.00,179.46 223.50,179.83 224.00,180.20 224.50,180.57 225.00,180.94 225.50,181.31 226.00,181.68 226.50,182.06 227.00,182.44 227.50,182.82 228.00,183.20 228.50,183.59 229.00,183.98 229.50,184.37 230.00,184.75 230.50,185.13 231.00,185.51 231.50,185.89 232.00,186.25 232.50,186.62 233.00,186.97 233.50,187.32 234.00,187.65 234.50,187.98 235.00,188.29 235.50,188.60 236.00,188.91 236.50,189.22 237.00,189.53 237.50,189.84 238.00,190.14 238.50,190.44 239.00,190.73 239.50,191.02 240.00,191.29 240.50,191.56 241.00,191.82 241.50,192.07 242.00,192.31 242.50,192.53 243.00,192.74 243.50,192.94 244.00,193.11 244.50,193.27 245.00,193.42 245.50,193.56 246.00,193.70 246.50,193.82 247.00,193.94 247.50,194.05 248.00,194.16 248.50,194.27 249.00,194.37 249.50,194.47 250.00,194.57 250.50,194.67 251.00,194.77 251.50,194.87 252.00,194.97 252.50,195.07 253.00,195.18 253.50,195.29 254.00,195.41 254.50,195.52 255.00,195.63 255.50,195.74 256.00,195.84 256.50,195.95 257.00,196.05 257.50,196.16 258.00,196.27 258.50,196.38 259.00,196.49 259.50,196.61 260.00,196.73 260.50,196.85 261.00,196.98 261.50,197.12 262.00,197.26 262.50,197.41 263.00,197.57 263.50,197.74 264.00,197.93 264.50,198.12 265.00,198.33 265.50,198.55 266.00,198.77 266.50,199.01 267.00,199.25 267.50,199.50 268.00,199.75 268.50,200.01 269.00,200.27 269.50,200.54 270.00,200.81 270.50,201.08 271.00,201.34 271.50,201.61 272.00,201.88 272.50,202.15 273.00,202.44 273.50,202.74 274.00,203.05 274.50,203.36 275.00,203.68 275.50,204.01 276.00,204.34 276.50,204.67 277.00,205.00 277.50,205.32 278.00,205.64 278.50,205.96 279.00,206.26 279.50,206.56 280.00,206.84 280.50,207.11 281.00,207.36 281.50,207.60 282.00,207.84 282.50,208.09 283.00,208.34 283.50,208.60 284.00,208.85 284.50,209.11 285.00,209.36 285.50,209.59 286.00,209.82 286.50,210.04 287.00,210.24 287.50,210.42 288.00,210.59 288.50,210.73 289.00,210.84 289.50,210.92 290.00,210.98 290.50,211.00 291.00,210.99 291.50,210.98 292.00,210.95 292.50,210.91 293.00,210.86 293.50,210.79 294.00,210.72 294.50,210.65 295.00,210.56 295.50,210.47 296.00,210.37 296.50,210.27 297.00,210.16 297.50,210.05 298.00,209.93 298.50,209.81 299.00,209.69 299.50,209.57 300.00,209.45 300.50,209.31 301.00,209.15 301.50,208.96 302.00,208.76 302.50,208.55 303.00,208.32 303.50,208.07 304.00,207.82 304.50,207.56 305.00,207.29 305.50,207.02 306.00,206.74 306.50,206.46 307.00,206.19 307.50,205.91 308.00,205.65 308.50,205.38 309.00,205.13 309.50,204.88 310.00,204.63 310.50,204.37 311.00,204.10 311.50,203.84 312.00,203.57 312.50,203.30 313.00,203.03 313.50,202.77 314.00,202.50 314.50,202.23 315.00,201.96 315.50,201.70 316.00,201.44 316.50,201.19 317.00,200.93 317.50,200.69 318.00,200.45 318.50,200.21 319.00,199.98 319.50,199.75 320.00,199.53 320.50,199.30 321.00,199.08 321.50,198.85 322.00,198.63 322.50,198.42 323.00,198.20 323.50,197.99 324.00,197.78 324.50,197.58 325.00,197.38 325.50,197.18 326.00,196.99 326.50,196.79 327.00,196.61 327.50,196.43 328.00,196.25 328.50,196.07 329.00,195.90 329.50,195.73 330.00,195.57 330.50,195.41 331.00,195.25 331.50,195.09 332.00,194.94 332.50,194.79 333.00,194.63 333.50,194.48 334.00,194.34 334.50,194.19 335.00,194.04 335.50,193.89 336.00,193.74 336.50,193.60 337.00,193.45 337.50,193.31 338.00,193.17 338.50,193.03 339.00,192.90 339.50,192.77 340.00,192.64 340.50,192.51 341.00,192.38 341.50,192.25 342.00,192.12 342.50,191.99 343.00,191.85 343.50,191.71 344.00,191.57 344.50,191.42 345.00,191.26 345.50,191.10 346.00,190.93 346.50,190.75 347.00,190.56 347.50,190.36 348.00,190.15 348.50,189.94 349.00,189.71 349.50,189.48 350.00,189.24 350.50,189.00 351.00,188.75 351.50,188.50 352.00,188.25 352.50,187.99 353.00,187.73 353.50,187.47 354.00,187.20 354.50,186.94 355.00,186.68 355.50,186.42 356.00,186.15 356.50,185.88 357.00,185.61 357.50,185.34 358.00,185.06 358.50,184.78 359.00,184.49 359.50,184.20 360.00,183.91 360.50,183.62 361.00,183.32 361.50,183.02 362.00,182.72 362.50,182.41 363.00,182.10 363.50,181.79 364.00,181.48 364.50,181.16" fill="none" stroke="#8fd0f8" stroke-width="0.6" stroke-linejoin="round" stroke-linecap="round"/>
<polyline points="216.50,200.00 217.00,200.38 217.50,200.76 218.00,201.13 218.50,201.50 219.00,201.87 219.50,202.23 220.00,202.59 220.50,202.95 221.00,203.30 221.50,203.65 222.00,204.00 222.50,204.35 223.00,204.69 223.50,205.02 224.00,205.36 224.50,205.69 225.00,206.01 225.50,206.34 226.00,206.66 226.50,206.98 227.00,207.31 227.50,207.63 228.00,207.96 228.50,208.29 229.00,208.62 229.50,208.94 230.00,209.26 230.50,209.57 231.00,209.88 231.50,210.17 232.00,210.46 232.50,210.73 233.00,211.00 233.50,211.25 234.00,211.48 234.50,211.70 235.00,211.90 235.50,212.08 236.00,212.26 236.50,212.42 237.00,212.58 237.50,212.74 238.00,212.89 238.50,213.03 239.00,213.16 239.50,213.30 240.00,213.43 240.50,213.55 241.00,213.68 241.50,213.80 242.00,213.93 242.50,214.05 243.00,214.17 243.50,214.30 244.00,214.43 244.50,214.56 245.00,214.69 245.50,214.81 246.00,214.94 246.50,215.05 247.00,215.17 247.50,215.29 248.00,215.40 248.50,215.52 249.00,215.64 249.50,215.75 250.00,215.87 250.50,215.99 251.00,216.12 251.50,216.24 252.00,216.37 252.50,216.51 253.00,216.65 253.50,216.79 254.00,216.94 254.50,217.10 255.00,217.26 255.50,217.43 256.00,217.60 256.50,217.78 257.00,217.96 257.50,218.14 258.00,218.33 258.50,218.52 259.00,218.71 259.50,218.91 260.00,219.10 260.50,219.30 261.00,219.50 261.50,219.70 262.00,219.89 262.50,220.09 263.00,220.29 263.50,220.51 264.00,220.75 264.50,221.00 265.00,221.27 265.50,221.54 266.00,221.83 266.50,222.11 267.00,222.38 267.50,222.65 268.00,222.91 268.50,223.16 269.00,223.38 269.50,223.58 270.00,223.75 270.50,223.90 271.00,224.00 271.50,224.07 272.00,224.10 272.50,224.10 273.00,224.09 273.50,224.09 274.00,224.08 274.50,224.07 275.00,224.05 275.50,224.04 276.00,224.02 276.50,224.00 277.00,223.97 277.50,223.95 278.00,223.92 278.50,223.89 279.00,223.86 279.50,223.83 280.00,223.79 280.50,223.76 281.00,223.72 281.50,223.68 282.00,223.62 282.50,223.54 283.00,223.44 283.50,223.32 284.00,223.18 284.50,223.03 285.00,222.86 285.50,222.69 286.00,222.51 286.50,222.32 287.00,222.12 287.50,221.93 288.00,221.73 288.50,221.54 289.00,221.35 289.50,221.16 290.00,220.98 290.50,220.82 291.00,220.65 291.50,220.49 292.00,220.32 292.50,220.15 293.00,219.99 293.50,219.82 294.00,219.65 294.50,219.47 295.00,219.30 295.50,219.13 296.00,218.96 296.50,218.79 297.00,218.62 297.50,218.45 298.00,218.29 298.50,218.12 299.00,217.96 299.50,217.80 300.00,217.64 300.50,217.48 301.00,217.33 301.50,217.18 302.00,217.03 302.50,216.88 303.00,216.73 303.50,216.58 304.00,216.44 304.50,216.29 305.00,216.14 305.50,216.00 306.00,215.85 306.50,215.70 307.00,215.55 307.50,215.40 308.00,215.24 308.50,215.08 309.00,214.92 309.50,214.75 310.00,214.58 310.50,214.40 311.00,214.21 311.50,214.01 312.00,213.82 312.50,213.62 313.00,213.42 313.50,213.23 314.00,213.03 314.50,212.84 315.00,212.65 315.50,212.47 316.00,212.29 316.50,212.12 317.00,211.96 317.50,211.82 318.00,211.68 318.50,211.56 319.00,211.44 319.50,211.33 320.00,211.23 320.50,211.13 321.00,211.04 321.50,210.95 322.00,210.87 322.50,210.78 323.00,210.70 323.50,210.62 324.00,210.54 324.50,210.46 325.00,210.37 325.50,210.29 326.00,210.20 326.50,210.11 327.00,210.01 327.50,209.91 328.00,209.81 328.50,209.70 329.00,209.60 329.50,209.48 330.00,209.37 330.50,209.26 331.00,209.14 331.50,209.03 332.00,208.91 332.50,208.79 333.00,208.66 333.50,208.54 334.00,208.42 334.50,208.29 335.00,208.17 335.50,208.04 336.00,207.91 336.50,207.78 337.00,207.66 337.50,207.53 338.00,207.40 338.50,207.27 339.00,207.15 339.50,207.02 340.00,206.89 340.50,206.76 341.00,206.63 341.50,206.50 342.00,206.36 342.50,206.22 343.00,206.08 343.50,205.93 344.00,205.78 344.50,205.63 345.00,205.47 345.50,205.30 346.00,205.13 346.50,204.95 347.00,204.77 347.50,204.58 348.00,204.38 348.50,204.18 349.00,203.97 349.50,203.75 350.00,203.53 350.50,203.30 351.00,203.06 351.50,202.82 352.00,202.57 352.50,202.31 353.00,202.05 353.50,201.77 354.00,201.49 354.50,201.20 355.00,200.91 355.50,200.60 356.00,200.28 356.50,199.94 357.00,199.59 357.50,199.23 358.00,198.85 358.50,198.45 359.00,198.04 359.50,197.62 360.00,197.19 360.50,196.74 361.00,196.28 361.50,195.82 362.00,195.34 362.50,194.85 363.00,194.35 363.50,193.84 364.00,193.33 364.50,192.80" fill="none" stroke="#ff9a9a" stroke-width="0.6" stroke-linejoin="round" stroke-linecap="round"/>
<polyline points="216.50,207.90 217.00,208.11 217.50,208.32 218.00,208.55 218.50,208.79 219.00,209.05 219.50,209.31 220.00,209.58 220.50,209.86 221.00,210.15 221.50,210.45 222.00,210.76 222.50,211.07 223.00,211.40 223.50,211.73 224.00,212.06 224.50,212.41 225.00,212.76 225.50,213.12 226.00,213.48 226.50,213.86 227.00,214.26 227.50,214.67 228.00,215.10 228.50,215.54 229.00,216.00 229.50,216.47 230.00,216.94 230.50,217.43 231.00,217.93 231.50,218.44 232.00,218.95 232.50,219.46 233.00,219.98 233.50,220.51 234.00,221.03 234.50,221.56 235.00,222.09 235.50,222.63 236.00,223.19 236.50,223.77 237.00,224.37 237.50,224.99 238.00,225.61 238.50,226.25 239.00,226.89 239.50,227.52 240.00,228.16 240.50,228.79 241.00,229.41 241.50,230.02 242.00,230.61 242.50,231.18 243.00,231.73 243.50,232.25 244.00,232.75 244.50,233.21 245.00,233.67 245.50,234.13 246.00,234.58 246.50,235.02 247.00,235.46 247.50,235.89 248.00,236.31 248.50,236.72 249.00,237.12 249.50,237.51 250.00,237.88 250.50,238.24 251.00,238.58 251.50,238.90 252.00,239.20 252.50,239.49 253.00,239.75 253.50,239.99 254.00,240.22 254.50,240.45 255.00,240.68 255.50,240.91 256.00,241.13 256.50,241.35 257.00,241.57 257.50,241.77 258.00,241.97 258.50,242.15 259.00,242.32 259.50,242.48 260.00,242.62 260.50,242.74 261.00,242.84 261.50,242.91 262.00,242.97 262.50,243.00 263.00,243.00 263.50,242.98 264.00,242.94 264.50,242.88 265.00,242.81 265.50,242.72 266.00,242.61 266.50,242.50 267.00,242.38 267.50,242.25 268.00,242.11 268.50,241.97 269.00,241.83 269.50,241.68 270.00,241.54 270.50,241.40 271.00,241.26 271.50,241.13 272.00,241.01 272.50,240.89 273.00,240.76 273.50,240.63 274.00,240.49 274.50,240.35 275.00,240.20 275.50,240.06 276.00,239.91 276.50,239.76 277.00,239.62 277.50,239.48 278.00,239.34 278.50,239.21 279.00,239.08 279.50,238.96 280.00,238.85 280.50,238.74 281.00,238.65 281.50,238.57 282.00,238.49 282.50,238.41 283.00,238.34 283.50,238.27 284.00,238.20 284.50,238.13 285.00,238.07 285.50,238.01 286.00,237.95 286.50,237.89 287.00,237.84 287.50,237.78 288.00,237.73 288.50,237.68 289.00,237.64 289.50,237.59 290.00,237.55 290.50,237.50 291.00,237.46 291.50,237.43 292.00,237.39 292.50,237.36 293.00,237.33 293.50,237.30 294.00,237.28 294.50,237.25 295.00,237.22 295.50,237.20 296.00,237.17 296.50,237.14 297.00,237.11 297.50,237.08 298.00,237.05 298.50,237.01 299.00,236.97 299.50,236.93 300.00,236.88 300.50,236.83 301.00,236.77 301.50,236.70 302.00,236.63 302.50,236.55 303.00,236.47 303.50,236.38 304.00,236.28 304.50,236.19 305.00,236.08 305.50,235.98 306.00,235.86 306.50,235.75 307.00,235.63 307.50,235.51 308.00,235.38 308.50,235.25 309.00,235.12 309.50,234.98 310.00,234.82 310.50,234.65 311.00,234.47 311.50,234.27 312.00,234.07 312.50,233.85 313.00,233.63 313.50,233.40 314.00,233.16 314.50,232.92 315.00,232.67 315.50,232.42 316.00,232.17 316.50,231.92 317.00,231.66 317.50,231.41 318.00,231.16 318.50,230.91 319.00,230.65 319.50,230.38 320.00,230.11 320.50,229.82 321.00,229.53 321.50,229.23 322.00,228.94 322.50,228.63 323.00,228.33 323.50,228.03 324.00,227.74 324.50,227.44 325.00,227.15 325.50,226.87 326.00,226.60 326.50,226.33 327.00,226.08 327.50,225.83 328.00,225.60 328.50,225.35 329.00,225.11 329.50,224.86 330.00,224.61 330.50,224.35 331.00,224.11 331.50,223.87 332.00,223.63 332.50,223.40 333.00,223.19 333.50,222.99 334.00,222.80 334.50,222.63 335.00,222.47 335.50,222.34 336.00,222.23 336.50,222.14 337.00,222.08 337.50,222.03 338.00,221.97 338.50,221.92 339.00,221.87 339.50,221.83 340.00,221.78 340.50,221.74 341.00,221.70 341.50,221.67 342.00,221.64 342.50,221.61 343.00,221.58 343.50,221.56 344.00,221.54 344.50,221.52 345.00,221.51 345.50,221.50 346.00,221.50 346.50,221.50 347.00,221.52 347.50,221.54 348.00,221.57 348.50,221.60 349.00,221.64 349.50,221.68 350.00,221.73 350.50,221.78 351.00,221.83 351.50,221.88 352.00,221.92 352.50,221.97 353.00,222.00 353.50,222.04 354.00,222.07 354.50,222.09 355.00,222.10 355.50,222.10 356.00,222.10 356.50,222.10 357.00,222.10 357.50,222.10 358.00,222.10 358.50,222.10 359.00,222.10 359.50,222.10 360.00,222.10 360.50,222.10 361.00,222.10 361.50,222.10 362.00,222.10 362.50,222.10 363.00,222.10 363.50,222.10 364.00,222.10 364.50,222.10" fill="none" stroke="#777" stroke-width="0.6" stroke-linejoin="round" stroke-linecap="round"/>
<g fill="#c43cf2"><circle cx="216.50" cy="159.50" r="1.5"/><circle cx="225.76" cy="169.50" r="1.5"/><circle cx="235.01" cy="179.50" r="1.5"/><circle cx="244.27" cy="184.30" r="1.5"/><circle cx="253.52" cy="186.00" r="1.5"/><circle cx="262.78" cy="188.60" r="1.5"/><circle cx="272.04" cy="194.80" r="1.5"/><circle cx="281.29" cy="203.00" r="1.5"/><circle cx="290.55" cy="209.50" r="1.5"/><circle cx="299.80" cy="212.50" r="1.5"/><circle cx="309.06" cy="209.50" r="1.5"/><circle cx="318.32" cy="205.70" r="1.5"/><circle cx="327.57" cy="202.90" r="1.5"/><circle cx="336.83" cy="200.70" r="1.5"/><circle cx="346.08" cy="197.00" r="1.5"/><circle cx="355.34" cy="192.00" r="1.5"/><circle cx="364.60" cy="183.90" r="1.5"/></g>
<g fill="#1e9ff2"><circle cx="216.50" cy="174.60" r="1.5"/><circle cx="225.76" cy="181.50" r="1.5"/><circle cx="235.01" cy="188.30" r="1.5"/><circle cx="244.27" cy="193.20" r="1.5"/><circle cx="253.52" cy="195.30" r="1.5"/><circle cx="262.78" cy="197.50" r="1.5"/><circle cx="272.04" cy="201.90" r="1.5"/><circle cx="281.29" cy="207.50" r="1.5"/><circle cx="290.55" cy="211.00" r="1.5"/><circle cx="299.80" cy="209.50" r="1.5"/><circle cx="309.06" cy="205.10" r="1.5"/><circle cx="318.32" cy="200.30" r="1.5"/><circle cx="327.57" cy="196.40" r="1.5"/><circle cx="336.83" cy="193.50" r="1.5"/><circle cx="346.08" cy="190.90" r="1.5"/><circle cx="355.34" cy="186.50" r="1.5"/><circle cx="364.60" cy="181.10" r="1.5"/></g>
<g fill="#ff3c3c"><circle cx="216.50" cy="200.00" r="1.5"/><circle cx="225.76" cy="206.50" r="1.5"/><circle cx="235.01" cy="211.90" r="1.5"/><circle cx="244.27" cy="214.50" r="1.5"/><circle cx="253.52" cy="216.80" r="1.5"/><circle cx="262.78" cy="220.20" r="1.5"/><circle cx="272.04" cy="224.10" r="1.5"/><circle cx="281.29" cy="223.70" r="1.5"/><circle cx="290.55" cy="220.80" r="1.5"/><circle cx="299.80" cy="217.70" r="1.5"/><circle cx="309.06" cy="214.90" r="1.5"/><circle cx="318.32" cy="211.60" r="1.5"/><circle cx="327.57" cy="209.90" r="1.5"/><circle cx="336.83" cy="207.70" r="1.5"/><circle cx="346.08" cy="205.10" r="1.5"/><circle cx="355.34" cy="200.70" r="1.5"/><circle cx="364.60" cy="192.70" r="1.5"/></g>
<g fill="#111"><circle cx="216.50" cy="207.90" r="1.5"/><circle cx="225.76" cy="213.30" r="1.5"/><circle cx="235.01" cy="222.10" r="1.5"/><circle cx="244.27" cy="233.00" r="1.5"/><circle cx="253.52" cy="240.00" r="1.5"/><circle cx="262.78" cy="243.00" r="1.5"/><circle cx="272.04" cy="241.00" r="1.5"/><circle cx="281.29" cy="238.60" r="1.5"/><circle cx="290.55" cy="237.50" r="1.5"/><circle cx="299.80" cy="236.90" r="1.5"/><circle cx="309.06" cy="235.10" r="1.5"/><circle cx="318.32" cy="231.00" r="1.5"/><circle cx="327.57" cy="225.80" r="1.5"/><circle cx="336.83" cy="222.10" r="1.5"/><circle cx="346.08" cy="221.50" r="1.5"/><circle cx="355.34" cy="222.10" r="1.5"/><circle cx="364.60" cy="222.10" r="1.5"/></g>
<line x1="263.00" y1="254.00" x2="263.00" y2="249.30" stroke="#111" stroke-width="0.9"/>
<polygon points="261.40,249.30 264.60,249.30 263.00,244.80" fill="#111"/>
<line x1="272.00" y1="235.60" x2="272.00" y2="231.40" stroke="#ff1a1a" stroke-width="1.0"/>
<polygon points="270.40,231.40 273.60,231.40 272.00,226.90" fill="#ff1a1a"/>
<line x1="290.50" y1="199.20" x2="290.50" y2="204.60" stroke="#1e9ff2" stroke-width="0.9"/>
<polygon points="288.90,204.60 292.10,204.60 290.50,209.60" fill="#1e9ff2"/>
<line x1="299.90" y1="197.70" x2="299.90" y2="203.30" stroke="#8a2cff" stroke-width="1.0"/>
<polygon points="298.20,203.30 301.60,203.30 299.90,208.80" fill="#8a2cff"/>
<rect x="212.2" y="153.1" width="152.10000000000002" height="122.29999999999998" fill="none" stroke="#666" stroke-width="1.0"/>
<line x1="212.30" y1="275.40" x2="212.30" y2="277.70" stroke="#444" stroke-width="0.8"/>
<line x1="222.44" y1="275.40" x2="222.44" y2="276.70" stroke="#444" stroke-width="0.8"/>
<line x1="232.58" y1="275.40" x2="232.58" y2="276.70" stroke="#444" stroke-width="0.8"/>
<line x1="242.72" y1="275.40" x2="242.72" y2="276.70" stroke="#444" stroke-width="0.8"/>
<line x1="252.86" y1="275.40" x2="252.86" y2="276.70" stroke="#444" stroke-width="0.8"/>
<line x1="263.00" y1="275.40" x2="263.00" y2="277.70" stroke="#444" stroke-width="0.8"/>
<line x1="273.14" y1="275.40" x2="273.14" y2="276.70" stroke="#444" stroke-width="0.8"/>
<line x1="283.28" y1="275.40" x2="283.28" y2="276.70" stroke="#444" stroke-width="0.8"/>
<line x1="293.42" y1="275.40" x2="293.42" y2="276.70" stroke="#444" stroke-width="0.8"/>
<line x1="303.56" y1="275.40" x2="303.56" y2="276.70" stroke="#444" stroke-width="0.8"/>
<line x1="313.70" y1="275.40" x2="313.70" y2="277.70" stroke="#444" stroke-width="0.8"/>
<line x1="323.84" y1="275.40" x2="323.84" y2="276.70" stroke="#444" stroke-width="0.8"/>
<line x1="333.98" y1="275.40" x2="333.98" y2="276.70" stroke="#444" stroke-width="0.8"/>
<line x1="344.12" y1="275.40" x2="344.12" y2="276.70" stroke="#444" stroke-width="0.8"/>
<line x1="354.26" y1="275.40" x2="354.26" y2="276.70" stroke="#444" stroke-width="0.8"/>
<line x1="364.40" y1="275.40" x2="364.40" y2="277.70" stroke="#444" stroke-width="0.8"/>
<text x="212.80" y="282.60" font-family="'Liberation Serif', serif" font-size="6.8" fill="#404040" text-anchor="middle" font-weight="normal" font-style="normal" dominant-baseline="central" textLength="9.8" lengthAdjust="spacingAndGlyphs" stroke="#404040" stroke-width="0.1">1.35</text>
<text x="263.50" y="282.60" font-family="'Liberation Serif', serif" font-size="6.8" fill="#404040" text-anchor="middle" font-weight="normal" font-style="normal" dominant-baseline="central" textLength="9.8" lengthAdjust="spacingAndGlyphs" stroke="#404040" stroke-width="0.1">1.40</text>
<text x="314.20" y="282.60" font-family="'Liberation Serif', serif" font-size="6.8" fill="#404040" text-anchor="middle" font-weight="normal" font-style="normal" dominant-baseline="central" textLength="9.8" lengthAdjust="spacingAndGlyphs" stroke="#404040" stroke-width="0.1">1.45</text>
<text x="364.90" y="282.60" font-family="'Liberation Serif', serif" font-size="6.8" fill="#404040" text-anchor="middle" font-weight="normal" font-style="normal" dominant-baseline="central" textLength="9.8" lengthAdjust="spacingAndGlyphs" stroke="#404040" stroke-width="0.1">1.50</text>
<line x1="209.90" y1="275.60" x2="212.20" y2="275.60" stroke="#444" stroke-width="0.8"/>
<line x1="210.90" y1="255.15" x2="212.20" y2="255.15" stroke="#444" stroke-width="0.8"/>
<line x1="209.90" y1="234.70" x2="212.20" y2="234.70" stroke="#444" stroke-width="0.8"/>
<line x1="210.90" y1="214.25" x2="212.20" y2="214.25" stroke="#444" stroke-width="0.8"/>
<line x1="209.90" y1="193.80" x2="212.20" y2="193.80" stroke="#444" stroke-width="0.8"/>
<line x1="210.90" y1="173.35" x2="212.20" y2="173.35" stroke="#444" stroke-width="0.8"/>
<line x1="209.90" y1="152.90" x2="212.20" y2="152.90" stroke="#444" stroke-width="0.8"/>
<text x="208.10" y="275.30" font-family="'Liberation Serif', serif" font-size="6.8" fill="#404040" text-anchor="end" font-weight="normal" font-style="normal" dominant-baseline="central" textLength="9.8" lengthAdjust="spacingAndGlyphs" stroke="#404040" stroke-width="0.1">0.55</text>
<text x="208.10" y="234.40" font-family="'Liberation Serif', serif" font-size="6.8" fill="#404040" text-anchor="end" font-weight="normal" font-style="normal" dominant-baseline="central" textLength="9.8" lengthAdjust="spacingAndGlyphs" stroke="#404040" stroke-width="0.1">0.60</text>
<text x="208.10" y="193.50" font-family="'Liberation Serif', serif" font-size="6.8" fill="#404040" text-anchor="end" font-weight="normal" font-style="normal" dominant-baseline="central" textLength="9.8" lengthAdjust="spacingAndGlyphs" stroke="#404040" stroke-width="0.1">0.65</text>
<text x="208.10" y="152.60" font-family="'Liberation Serif', serif" font-size="6.8" fill="#404040" text-anchor="end" font-weight="normal" font-style="normal" dominant-baseline="central" textLength="9.8" lengthAdjust="spacingAndGlyphs" stroke="#404040" stroke-width="0.1">0.70</text>
<text x="212.10" y="157.50" font-family="'Liberation Serif', serif" font-size="10.8" fill="#111" text-anchor="start" font-weight="bold" font-style="normal" dominant-baseline="central">(e)</text>
<text x="293.00" y="169.00" font-family="'Liberation Serif', serif" font-size="7.6" fill="#111" text-anchor="middle" font-weight="normal" font-style="normal" dominant-baseline="central">L-Phenylalanine</text>
<text x="288.00" y="290.20" font-family="'Liberation Serif', serif" font-size="7.5" fill="#222" text-anchor="middle" font-weight="bold" font-style="normal" dominant-baseline="central" textLength="49.6" lengthAdjust="spacingAndGlyphs">Frequency(THz)</text>
<text x="194.20" y="213.30" font-family="'Liberation Serif', serif" font-size="7.4" fill="#1a1a1a" text-anchor="middle" font-weight="normal" font-style="normal" dominant-baseline="central" transform="rotate(-90 194.2 213.3)" stroke="#1a1a1a" stroke-width="0.15">Transmission</text>
<line x1="213.60" y1="249.20" x2="226.30" y2="249.20" stroke="#777" stroke-width="0.6"/>
<circle cx="220.9" cy="249.2" r="1.25" fill="#111"/>
<text x="228.10" y="249.20" font-family="'Liberation Serif', serif" font-size="6.0" fill="#2a2a2a" text-anchor="start" font-weight="normal" font-style="normal" dominant-baseline="central" textLength="12.0" lengthAdjust="spacingAndGlyphs">0mM</text>
<line x1="213.60" y1="256.40" x2="226.30" y2="256.40" stroke="#ff9a9a" stroke-width="0.6"/>
<circle cx="220.9" cy="256.4" r="1.25" fill="#ff3c3c"/>
<text x="228.10" y="256.40" font-family="'Liberation Serif', serif" font-size="6.0" fill="#2a2a2a" text-anchor="start" font-weight="normal" font-style="normal" dominant-baseline="central" textLength="12.0" lengthAdjust="spacingAndGlyphs">5mM</text>
<line x1="213.60" y1="263.60" x2="226.30" y2="263.60" stroke="#e0a0f8" stroke-width="0.6"/>
<circle cx="220.9" cy="263.6" r="1.25" fill="#c43cf2"/>
<text x="228.10" y="263.60" font-family="'Liberation Serif', serif" font-size="6.0" fill="#2a2a2a" text-anchor="start" font-weight="normal" font-style="normal" dominant-baseline="central" textLength="16.0" lengthAdjust="spacingAndGlyphs">20mM</text>
<line x1="213.60" y1="270.80" x2="226.30" y2="270.80" stroke="#8fd0f8" stroke-width="0.6"/>
<circle cx="220.9" cy="270.8" r="1.25" fill="#1e9ff2"/>
<text x="228.10" y="270.80" font-family="'Liberation Serif', serif" font-size="6.0" fill="#2a2a2a" text-anchor="start" font-weight="normal" font-style="normal" dominant-baseline="central" textLength="16.0" lengthAdjust="spacingAndGlyphs">10mM</text>
<rect x="390.7" y="151.7" width="155.59999999999997" height="126.40000000000003" fill="none" stroke="#555" stroke-width="0.9"/>
<line x1="403.60" y1="265.88" x2="532.80" y2="160.60" stroke="#ff5a5a" stroke-width="1.1"/>
<rect x="402.10" y="262.50" width="3" height="3" fill="#000"/>
<rect x="434.40" y="236.74" width="3" height="3" fill="#000"/>
<rect x="466.70" y="193.90" width="3" height="3" fill="#000"/>
<line x1="468.20" y1="180.28" x2="468.20" y2="210.52" stroke="#999" stroke-width="0.7"/>
<line x1="467.00" y1="180.28" x2="469.40" y2="180.28" stroke="#999" stroke-width="0.7"/>
<line x1="467.00" y1="210.52" x2="469.40" y2="210.52" stroke="#999" stroke-width="0.7"/>
<rect x="531.30" y="160.02" width="3" height="3" fill="#000"/>
<line x1="403.60" y1="278.10" x2="403.60" y2="280.30" stroke="#555" stroke-width="0.8"/>
<text x="403.60" y="285.40" font-family="'Liberation Serif', serif" font-size="5.6" fill="#808080" text-anchor="middle" font-weight="normal" font-style="normal" dominant-baseline="central">0</text>
<line x1="435.90" y1="278.10" x2="435.90" y2="280.30" stroke="#555" stroke-width="0.8"/>
<text x="435.90" y="285.40" font-family="'Liberation Serif', serif" font-size="5.6" fill="#808080" text-anchor="middle" font-weight="normal" font-style="normal" dominant-baseline="central">5</text>
<line x1="468.20" y1="278.10" x2="468.20" y2="280.30" stroke="#555" stroke-width="0.8"/>
<text x="468.20" y="285.40" font-family="'Liberation Serif', serif" font-size="5.6" fill="#808080" text-anchor="middle" font-weight="normal" font-style="normal" dominant-baseline="central">10</text>
<line x1="500.50" y1="278.10" x2="500.50" y2="280.30" stroke="#555" stroke-width="0.8"/>
<text x="500.50" y="285.40" font-family="'Liberation Serif', serif" font-size="5.6" fill="#808080" text-anchor="middle" font-weight="normal" font-style="normal" dominant-baseline="central">15</text>
<line x1="532.80" y1="278.10" x2="532.80" y2="280.30" stroke="#555" stroke-width="0.8"/>
<text x="532.80" y="285.40" font-family="'Liberation Serif', serif" font-size="5.6" fill="#808080" text-anchor="middle" font-weight="normal" font-style="normal" dominant-baseline="central">20</text>
<line x1="419.75" y1="278.10" x2="419.75" y2="279.40" stroke="#555" stroke-width="0.8"/>
<line x1="452.05" y1="278.10" x2="452.05" y2="279.40" stroke="#555" stroke-width="0.8"/>
<line x1="484.35" y1="278.10" x2="484.35" y2="279.40" stroke="#555" stroke-width="0.8"/>
<line x1="516.65" y1="278.10" x2="516.65" y2="279.40" stroke="#555" stroke-width="0.8"/>
<line x1="388.50" y1="271.00" x2="390.70" y2="271.00" stroke="#555" stroke-width="0.8"/>
<text x="387.60" y="270.60" font-family="'Liberation Serif', serif" font-size="5.6" fill="#808080" text-anchor="end" font-weight="normal" font-style="normal" dominant-baseline="central">0</text>
<line x1="388.50" y1="257.00" x2="390.70" y2="257.00" stroke="#555" stroke-width="0.8"/>
<text x="387.60" y="256.60" font-family="'Liberation Serif', serif" font-size="5.6" fill="#808080" text-anchor="end" font-weight="normal" font-style="normal" dominant-baseline="central">5</text>
<line x1="388.50" y1="243.00" x2="390.70" y2="243.00" stroke="#555" stroke-width="0.8"/>
<text x="387.60" y="242.60" font-family="'Liberation Serif', serif" font-size="5.6" fill="#808080" text-anchor="end" font-weight="normal" font-style="normal" dominant-baseline="central">10</text>
<line x1="388.50" y1="229.00" x2="390.70" y2="229.00" stroke="#555" stroke-width="0.8"/>
<text x="387.60" y="228.60" font-family="'Liberation Serif', serif" font-size="5.6" fill="#808080" text-anchor="end" font-weight="normal" font-style="normal" dominant-baseline="central">15</text>
<line x1="388.50" y1="215.00" x2="390.70" y2="215.00" stroke="#555" stroke-width="0.8"/>
<text x="387.60" y="214.60" font-family="'Liberation Serif', serif" font-size="5.6" fill="#808080" text-anchor="end" font-weight="normal" font-style="normal" dominant-baseline="central">20</text>
<line x1="388.50" y1="201.00" x2="390.70" y2="201.00" stroke="#555" stroke-width="0.8"/>
<text x="387.60" y="200.60" font-family="'Liberation Serif', serif" font-size="5.6" fill="#808080" text-anchor="end" font-weight="normal" font-style="normal" dominant-baseline="central">25</text>
<line x1="388.50" y1="187.00" x2="390.70" y2="187.00" stroke="#555" stroke-width="0.8"/>
<text x="387.60" y="186.60" font-family="'Liberation Serif', serif" font-size="5.6" fill="#808080" text-anchor="end" font-weight="normal" font-style="normal" dominant-baseline="central">30</text>
<line x1="388.50" y1="173.00" x2="390.70" y2="173.00" stroke="#555" stroke-width="0.8"/>
<text x="387.60" y="172.60" font-family="'Liberation Serif', serif" font-size="5.6" fill="#808080" text-anchor="end" font-weight="normal" font-style="normal" dominant-baseline="central">35</text>
<line x1="388.50" y1="159.00" x2="390.70" y2="159.00" stroke="#555" stroke-width="0.8"/>
<text x="387.60" y="158.60" font-family="'Liberation Serif', serif" font-size="5.6" fill="#808080" text-anchor="end" font-weight="normal" font-style="normal" dominant-baseline="central">40</text>
<rect x="401.6" y="156.6" width="3.0" height="3.0" fill="#000"/>
<text x="412.40" y="158.00" font-family="'Liberation Serif', serif" font-size="7.8" fill="#111" text-anchor="start" font-weight="normal" font-style="normal" dominant-baseline="central" textLength="43.8" lengthAdjust="spacingAndGlyphs">Resonance Pick</text>
<line x1="395.60" y1="167.00" x2="410.20" y2="167.00" stroke="#ff7070" stroke-width="1.2"/>
<text x="412.40" y="167.10" font-family="'Liberation Serif', serif" font-size="7.8" fill="#111" text-anchor="start" font-weight="normal" font-style="normal" dominant-baseline="central" textLength="36.9" lengthAdjust="spacingAndGlyphs">Linear fitting</text>
<text x="532.30" y="158.40" font-family="'Liberation Serif', serif" font-size="11" fill="#111" text-anchor="start" font-weight="bold" font-style="normal" dominant-baseline="central">(f)</text>
<text x="469.80" y="291.00" font-family="'Liberation Serif', serif" font-size="7.6" fill="#1a1a1a" text-anchor="middle" font-weight="normal" font-style="normal" dominant-baseline="central" stroke="#1a1a1a" stroke-width="0.15">Solution concentration(mmol/L)</text>
<text x="378.50" y="214.50" font-family="'Liberation Serif', serif" font-size="7.6" fill="#1a1a1a" text-anchor="middle" font-weight="normal" font-style="normal" dominant-baseline="central" transform="rotate(-90 378.5 214.5)" stroke="#1a1a1a" stroke-width="0.12">Frequency shift(GHz)</text>
<text x="450.60" y="117.40" font-family="'Liberation Serif', serif" font-size="10.4" fill="#222" stroke="#222" stroke-width="0.5" font-style="normal" textLength="6.10" lengthAdjust="spacingAndGlyphs">Δ</text>
<text x="456.20" y="117.40" font-family="'Liberation Serif', serif" font-size="10.4" fill="#222" stroke="#222" stroke-width="0.25" font-style="italic">f</text>
<text x="480.30" y="117.40" font-family="'Liberation Serif', serif" font-size="10.4" fill="#222" stroke="#222" stroke-width="0.35" font-style="normal" textLength="17.90" lengthAdjust="spacingAndGlyphs">9.88</text>
<text x="499.00" y="117.40" font-family="'Liberation Serif', serif" font-size="10.4" fill="#222" stroke="#222" stroke-width="0.3" font-style="italic">c</text>
<text x="522.30" y="117.40" font-family="'Liberation Serif', serif" font-size="10.4" fill="#222" stroke="#222" stroke-width="0.35" font-style="normal" textLength="18.20" lengthAdjust="spacingAndGlyphs">1.84</text>
<line x1="468.20" y1="113.00" x2="474.90" y2="113.00" stroke="#333" stroke-width="1.1"/>
<line x1="468.20" y1="115.50" x2="474.90" y2="115.50" stroke="#333" stroke-width="1.1"/>
<line x1="509.70" y1="114.10" x2="516.20" y2="114.10" stroke="#333" stroke-width="1.2"/>
<line x1="512.95" y1="110.90" x2="512.95" y2="117.30" stroke="#333" stroke-width="1.2"/>
<text x="450.60" y="266.60" font-family="'Liberation Serif', serif" font-size="10.4" fill="#222" stroke="#222" stroke-width="0.5" font-style="normal" textLength="6.10" lengthAdjust="spacingAndGlyphs">Δ</text>
<text x="456.20" y="266.60" font-family="'Liberation Serif', serif" font-size="10.4" fill="#222" stroke="#222" stroke-width="0.25" font-style="italic">f</text>
<text x="481.20" y="266.60" font-family="'Liberation Serif', serif" font-size="10.4" fill="#222" stroke="#222" stroke-width="0.35" font-style="normal" textLength="15.60" lengthAdjust="spacingAndGlyphs">1.88</text>
<text x="496.40" y="266.60" font-family="'Liberation Serif', serif" font-size="10.4" fill="#222" stroke="#222" stroke-width="0.3" font-style="italic">c</text>
<text x="522.30" y="266.60" font-family="'Liberation Serif', serif" font-size="10.4" fill="#222" stroke="#222" stroke-width="0.35" font-style="normal" textLength="18.20" lengthAdjust="spacingAndGlyphs">1.83</text>
<line x1="468.20" y1="262.20" x2="474.90" y2="262.20" stroke="#333" stroke-width="1.1"/>
<line x1="468.20" y1="264.70" x2="474.90" y2="264.70" stroke="#333" stroke-width="1.1"/>
<line x1="509.70" y1="263.30" x2="516.20" y2="263.30" stroke="#333" stroke-width="1.2"/>
<line x1="512.95" y1="260.10" x2="512.95" y2="266.50" stroke="#333" stroke-width="1.2"/>
</svg>
</body></html>
